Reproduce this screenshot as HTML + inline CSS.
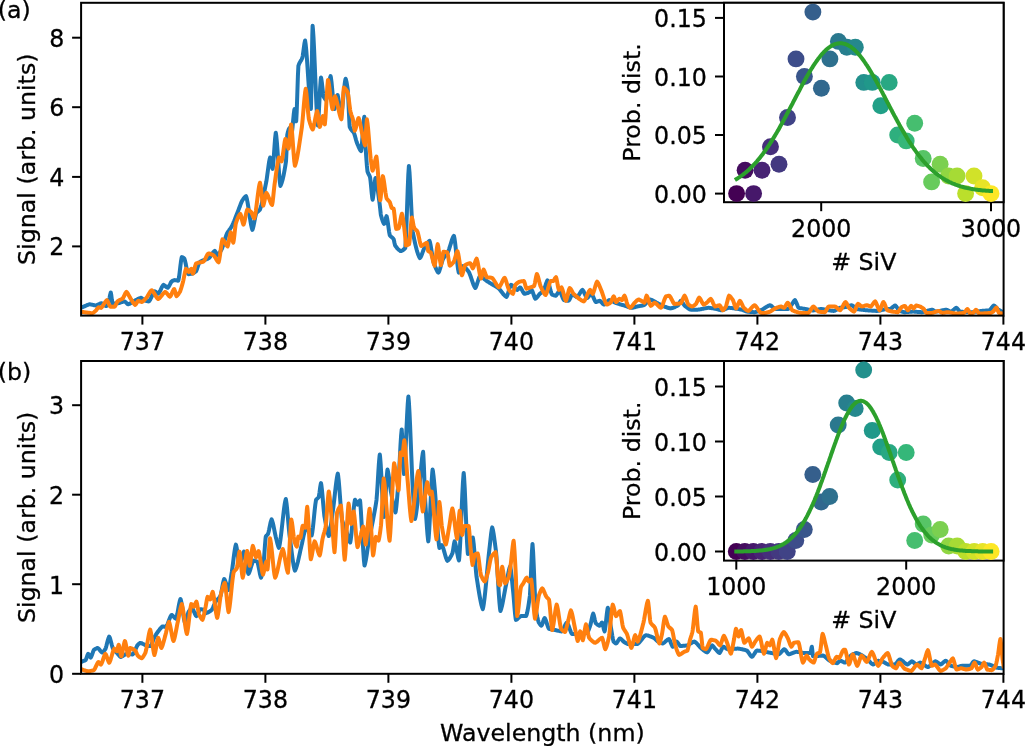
<!DOCTYPE html>
<html><head><meta charset="utf-8"><title>Figure</title>
<style>html,body{margin:0;padding:0;background:#fff}svg{display:block}</style></head>
<body>
<svg width="1025" height="746" viewBox="0 0 1025 746" font-family='"DejaVu Sans", "Liberation Sans", sans-serif' font-size="23.7" fill="#000">
<style>text{stroke:#000;stroke-width:0.3px;paint-order:stroke}</style>
<rect width="1025" height="746" fill="#fff"/>
<defs>
<clipPath id="ca"><rect x="81.1" y="2.8" width="922.5" height="312.8"/></clipPath>
<clipPath id="cb"><rect x="81.1" y="361.0" width="922.5" height="312.79999999999995"/></clipPath>
</defs>
<path d="M81.3 307.5 L81.9 307.4 L82.1 307.3 L82.5 307.2 L83.1 306.9 L83.7 306.7 L84.3 306.4 L84.9 306.1 L85.5 305.8 L86.1 305.6 L86.7 305.3 L87.3 305.0 L87.9 304.8 L88.5 304.6 L89.1 304.4 L89.7 304.3 L89.8 304.3 L90.3 304.4 L90.9 304.5 L91.5 304.6 L92.1 304.7 L92.7 304.9 L93.3 305.0 L93.9 305.2 L94.5 305.3 L95.1 305.4 L95.7 305.5 L95.7 305.5 L96.3 305.4 L96.9 305.2 L97.5 304.9 L98.1 304.6 L98.7 304.3 L99.3 304.0 L99.9 303.7 L100.5 303.5 L101.1 303.3 L101.6 303.2 L101.7 303.2 L102.3 303.5 L102.9 303.8 L103.5 304.3 L104.1 304.8 L104.7 305.2 L105.3 305.7 L105.9 306.0 L106.3 306.1 L106.5 305.9 L107.1 305.0 L107.7 303.8 L108.3 302.3 L108.9 300.8 L108.9 300.8 L109.5 298.1 L110.1 295.0 L110.7 292.7 L110.8 292.5 L111.3 295.2 L111.9 300.2 L112.5 303.7 L112.5 303.7 L113.1 303.7 L113.7 303.6 L114.3 303.6 L114.9 303.5 L115.5 303.5 L116.1 303.4 L116.7 303.4 L117.3 303.3 L117.9 303.2 L118.1 303.2 L118.5 303.1 L119.1 303.0 L119.7 302.8 L120.3 302.6 L120.9 302.4 L121.5 302.2 L122.1 302.0 L122.7 301.8 L123.3 301.6 L123.9 301.5 L124.5 301.4 L124.6 301.4 L125.1 301.7 L125.7 302.2 L126.3 302.8 L126.9 303.4 L127.5 304.0 L128.1 304.3 L128.1 304.3 L128.7 304.1 L129.3 303.9 L129.9 303.6 L130.5 303.3 L131.1 302.9 L131.7 302.6 L132.3 302.2 L132.9 301.8 L133.5 301.4 L134.1 301.1 L134.6 300.8 L134.7 300.8 L135.3 300.4 L135.9 300.1 L136.5 299.8 L137.1 299.5 L137.7 299.1 L138.3 298.8 L138.9 298.5 L139.5 298.3 L140.1 298.1 L140.7 297.9 L141.1 297.8 L141.3 297.9 L141.9 298.3 L142.5 298.8 L143.1 299.4 L143.7 299.9 L144.1 300.2 L144.3 300.3 L144.9 300.5 L145.5 300.7 L146.1 300.8 L146.7 301.0 L147.3 301.2 L147.9 301.3 L148.5 301.4 L148.8 301.4 L149.1 301.2 L149.7 300.4 L150.3 299.4 L150.9 298.2 L151.5 296.9 L152.1 295.6 L152.7 294.4 L153.3 293.2 L153.9 292.2 L154.5 291.6 L154.7 291.4 L155.1 291.6 L155.7 291.9 L156.3 292.4 L156.9 292.9 L157.5 293.4 L158.1 293.7 L158.2 293.7 L158.7 293.2 L159.3 292.4 L159.9 291.3 L160.5 290.1 L161.1 288.8 L161.7 287.5 L162.3 286.4 L162.9 285.5 L163.5 284.9 L163.5 284.9 L164.1 285.2 L164.7 285.6 L165.3 286.1 L165.9 286.6 L166.5 287.1 L167.1 287.5 L167.7 287.8 L167.7 287.8 L168.3 287.2 L168.9 286.3 L169.5 285.2 L170.1 284.1 L170.7 282.9 L171.3 281.9 L171.8 281.3 L171.9 281.2 L172.5 280.9 L173.1 280.6 L173.7 280.4 L174.3 280.2 L174.7 280.1 L174.9 280.1 L175.5 280.2 L176.1 280.3 L176.7 280.4 L177.3 280.6 L177.9 280.7 L178.3 280.7 L178.5 280.0 L179.1 276.7 L179.7 271.9 L180.3 266.7 L180.9 261.9 L181.5 258.2 L181.8 257.1 L182.1 257.2 L182.7 257.4 L183.3 257.7 L183.9 258.1 L184.2 258.3 L184.5 259.0 L185.1 261.1 L185.7 263.8 L186.3 266.8 L186.9 269.6 L187.5 272.1 L188.1 273.8 L188.3 274.2 L188.7 274.2 L189.3 274.1 L189.9 274.0 L190.5 273.9 L191.1 273.8 L191.7 273.7 L191.9 273.7 L192.3 273.5 L192.9 273.3 L193.5 273.0 L194.1 272.6 L194.7 272.3 L195.3 271.8 L195.9 271.4 L196.0 271.3 L196.5 270.3 L197.1 268.7 L197.7 266.9 L198.3 265.1 L198.9 263.5 L199.5 262.3 L199.5 262.3 L200.1 261.9 L200.7 261.6 L201.3 261.2 L201.9 260.9 L202.5 260.7 L203.1 260.4 L203.7 260.2 L204.3 260.0 L204.9 259.8 L205.5 259.6 L206.1 259.4 L206.7 259.1 L207.3 258.9 L207.9 258.6 L208.5 258.3 L209.0 258.0 L209.1 257.9 L209.7 257.3 L210.3 256.5 L210.9 255.6 L211.5 254.8 L212.1 253.9 L212.7 253.0 L213.3 252.2 L213.9 251.6 L214.5 251.1 L214.8 250.9 L215.1 251.2 L215.7 252.2 L216.3 253.5 L216.9 254.7 L217.4 255.3 L217.5 255.2 L218.1 254.8 L218.7 254.1 L219.3 253.2 L219.9 252.3 L220.5 251.3 L221.1 250.2 L221.7 249.2 L221.8 249.0 L222.3 247.7 L222.9 246.0 L223.5 244.2 L224.1 242.2 L224.7 240.2 L225.3 238.3 L225.9 236.4 L226.5 234.7 L226.9 233.7 L227.1 233.3 L227.7 232.3 L228.3 231.4 L228.9 230.6 L229.5 229.7 L230.1 228.9 L230.7 228.0 L231.3 227.1 L231.9 226.2 L232.0 226.0 L232.5 224.9 L233.1 223.6 L233.7 222.1 L234.3 220.7 L234.9 219.1 L235.5 217.6 L236.1 216.1 L236.7 214.5 L237.3 213.0 L237.7 212.0 L237.9 211.5 L238.5 209.9 L239.1 208.3 L239.7 206.7 L240.3 205.1 L240.9 203.5 L241.5 202.1 L242.1 200.8 L242.2 200.6 L242.7 199.9 L243.3 199.0 L243.9 198.2 L244.5 197.4 L245.1 196.8 L245.7 196.3 L246.0 196.1 L246.3 196.9 L246.9 199.1 L247.5 202.1 L248.1 205.6 L248.7 209.5 L249.3 213.6 L249.9 217.7 L250.5 221.5 L251.1 224.9 L251.7 227.7 L252.3 229.6 L252.4 229.8 L252.9 228.5 L253.5 226.1 L254.1 223.1 L254.7 219.9 L255.3 216.8 L255.9 214.2 L256.2 213.3 L256.5 212.9 L257.1 212.3 L257.7 211.7 L258.3 211.2 L258.9 210.7 L259.5 210.1 L260.0 209.5 L260.1 209.2 L260.7 207.4 L261.3 205.3 L261.9 202.9 L262.5 200.3 L263.1 197.6 L263.7 194.7 L264.3 191.8 L264.9 188.7 L265.5 185.7 L266.1 182.7 L266.3 181.7 L266.7 179.2 L267.3 174.9 L267.9 170.4 L268.5 165.9 L269.1 161.9 L269.7 158.8 L270.1 157.5 L270.3 158.0 L270.9 160.6 L271.5 164.1 L272.1 167.3 L272.6 168.9 L272.7 168.4 L273.3 163.1 L273.9 155.2 L274.5 146.4 L275.1 138.5 L275.7 133.2 L275.8 132.7 L276.3 136.1 L276.9 142.4 L277.5 150.4 L278.1 159.3 L278.7 168.2 L279.3 176.2 L279.9 182.5 L280.4 185.9 L280.5 185.7 L281.1 184.4 L281.7 182.8 L282.3 180.8 L282.9 178.4 L283.5 175.7 L284.1 172.7 L284.7 169.4 L285.3 165.9 L285.9 162.0 L286.0 161.3 L286.5 151.4 L287.1 137.6 L287.3 134.6 L287.7 132.9 L288.3 130.7 L288.9 129.0 L289.5 128.0 L289.5 128.0 L290.1 129.7 L290.7 132.4 L291.3 134.6 L291.5 135.0 L291.9 132.9 L292.5 127.5 L293.1 120.9 L293.7 114.6 L294.3 110.0 L294.5 109.1 L294.9 111.3 L295.5 116.5 L296.1 120.8 L296.2 121.2 L296.7 112.0 L297.3 94.2 L297.9 76.0 L298.4 65.9 L298.5 65.6 L299.1 63.9 L299.7 62.7 L300.3 61.6 L300.9 60.7 L301.5 59.6 L302.1 58.4 L302.4 57.6 L302.7 56.0 L303.3 51.9 L303.9 47.2 L304.5 43.1 L305.1 40.5 L305.1 40.5 L305.7 44.6 L306.3 50.7 L306.9 58.4 L307.5 67.1 L308.1 76.3 L308.7 85.4 L309.3 93.8 L309.9 101.0 L310.5 106.6 L310.9 109.0 L311.1 103.2 L311.7 70.6 L312.3 35.8 L312.6 25.8 L312.9 28.7 L313.5 37.5 L314.1 49.4 L314.7 63.3 L315.3 78.2 L315.9 92.9 L316.5 106.3 L317.1 117.3 L317.7 124.8 L317.8 125.6 L318.3 120.7 L318.9 111.1 L319.5 99.5 L320.1 88.4 L320.7 79.9 L321.0 77.4 L321.3 78.7 L321.9 82.9 L322.5 88.3 L323.1 93.5 L323.6 96.5 L323.7 96.7 L324.3 97.8 L324.9 98.8 L325.5 99.6 L326.0 100.0 L326.1 99.8 L326.7 97.7 L327.3 94.5 L327.9 90.7 L328.5 86.7 L329.1 82.8 L329.7 79.4 L330.3 76.9 L330.6 76.1 L330.9 77.5 L331.5 82.0 L332.1 88.1 L332.7 94.9 L333.3 101.3 L333.9 106.4 L334.4 109.1 L334.5 108.9 L335.1 106.8 L335.7 103.8 L336.3 100.3 L336.9 97.3 L337.5 95.2 L337.6 95.0 L338.1 97.0 L338.7 100.8 L339.3 105.5 L339.9 110.2 L340.5 114.0 L341.0 116.0 L341.1 115.6 L341.7 112.3 L342.3 107.4 L342.9 101.5 L343.5 95.2 L344.1 89.2 L344.7 83.9 L345.3 79.9 L345.6 78.7 L345.9 79.5 L346.5 81.9 L347.1 85.3 L347.7 89.3 L347.8 90.0 L348.3 98.8 L348.9 112.7 L349.5 124.5 L349.7 126.9 L350.1 127.8 L350.7 128.9 L351.3 129.7 L351.9 130.4 L352.5 131.1 L353.1 131.8 L353.7 132.6 L354.1 133.3 L354.3 133.9 L354.9 135.8 L355.5 138.0 L356.1 140.2 L356.7 142.2 L356.7 142.2 L357.3 143.7 L357.9 145.1 L358.5 146.6 L359.1 147.9 L359.7 149.2 L360.3 150.2 L360.9 150.9 L361.1 151.1 L361.5 148.5 L362.1 142.0 L362.7 133.9 L363.3 125.8 L363.9 119.3 L364.3 116.7 L364.5 119.5 L365.1 134.6 L365.6 147.3 L365.7 148.8 L366.3 157.8 L366.9 165.7 L367.5 171.5 L367.5 171.5 L368.1 173.1 L368.7 174.3 L369.3 175.4 L369.9 176.8 L370.1 177.4 L370.5 180.4 L371.1 186.5 L371.7 193.0 L372.3 198.2 L372.6 199.7 L372.9 198.4 L373.5 194.0 L374.1 188.4 L374.7 182.8 L375.3 178.8 L375.5 178.0 L375.9 179.2 L376.5 181.9 L377.1 185.4 L377.7 189.5 L378.3 193.9 L378.9 198.4 L379.5 202.8 L379.6 203.5 L380.1 208.0 L380.7 213.5 L380.9 214.9 L381.3 216.4 L381.9 218.6 L382.5 220.5 L383.1 222.1 L383.7 223.3 L384.1 223.9 L384.3 223.6 L384.9 221.8 L385.5 219.5 L386.1 217.3 L386.6 216.2 L386.7 216.5 L387.3 219.2 L387.9 223.1 L388.5 227.6 L389.1 231.8 L389.7 234.9 L389.8 235.3 L390.3 235.9 L390.9 236.5 L391.5 237.0 L392.1 237.5 L392.7 238.0 L393.3 238.7 L393.6 239.1 L393.9 240.1 L394.5 243.0 L395.1 245.4 L395.1 245.4 L395.7 246.3 L396.3 247.1 L396.9 247.9 L397.5 248.6 L398.1 249.2 L398.7 249.7 L399.3 250.2 L399.9 250.6 L400.5 251.0 L400.8 251.1 L401.1 251.0 L401.7 250.8 L402.3 250.5 L402.9 250.1 L403.5 249.6 L404.1 249.1 L404.7 248.6 L405.3 247.9 L405.3 247.9 L405.9 238.4 L406.5 223.8 L407.1 206.5 L407.7 189.4 L408.3 174.9 L408.9 165.9 L408.9 165.9 L409.5 172.4 L410.1 182.5 L410.7 194.7 L411.3 207.6 L411.9 219.5 L412.5 229.1 L412.7 231.5 L413.1 233.6 L413.7 236.7 L414.3 239.7 L414.9 242.5 L415.5 245.1 L416.1 247.5 L416.7 249.8 L417.3 251.9 L417.9 253.7 L418.5 255.3 L419.1 256.7 L419.7 257.8 L419.9 258.1 L420.3 257.6 L420.9 256.6 L421.5 255.3 L422.1 253.7 L422.7 252.1 L423.3 250.5 L423.9 249.0 L424.4 247.9 L424.5 247.7 L425.1 246.8 L425.7 245.8 L426.3 244.8 L426.9 243.8 L427.5 242.9 L428.1 242.2 L428.7 241.5 L429.3 241.0 L429.5 240.9 L429.9 242.0 L430.5 244.6 L431.1 248.0 L431.7 251.8 L432.3 255.6 L432.9 259.2 L433.5 262.0 L433.5 262.0 L434.1 263.7 L434.7 265.3 L435.3 266.9 L435.9 268.4 L436.5 269.7 L437.1 270.9 L437.7 271.9 L438.3 272.6 L438.4 272.7 L438.9 271.9 L439.5 270.4 L440.1 268.6 L440.7 266.5 L441.3 264.3 L441.9 262.2 L442.5 260.3 L443.0 259.0 L443.1 258.8 L443.7 257.9 L444.3 257.0 L444.9 256.2 L445.5 255.5 L446.1 254.7 L446.7 253.9 L447.3 253.1 L447.9 252.2 L448.0 252.0 L448.5 250.8 L449.1 249.1 L449.7 247.2 L450.3 245.2 L450.9 243.3 L451.5 241.3 L452.1 239.5 L452.7 237.9 L453.3 236.7 L453.9 235.8 L453.9 235.8 L454.5 238.5 L455.1 242.7 L455.7 248.0 L456.3 253.8 L456.9 259.6 L457.5 264.9 L458.1 269.4 L458.7 272.4 L458.8 272.7 L459.3 272.2 L459.9 271.3 L460.5 270.2 L461.1 268.9 L461.7 267.7 L462.3 266.7 L462.9 266.1 L463.0 266.0 L463.5 266.2 L464.1 266.6 L464.7 267.1 L465.3 267.7 L465.9 268.4 L466.5 269.0 L467.1 269.8 L467.7 270.5 L468.3 271.3 L468.9 272.1 L468.9 272.1 L469.5 273.4 L470.1 274.9 L470.7 276.5 L471.3 278.3 L471.9 280.1 L472.5 281.9 L473.1 283.6 L473.7 285.2 L474.3 286.5 L474.9 287.5 L475.3 288.0 L475.5 287.8 L476.1 286.6 L476.7 285.0 L477.3 283.2 L477.9 281.2 L478.5 279.3 L479.1 277.6 L479.7 276.4 L480.0 276.0 L480.3 276.1 L480.9 276.4 L481.5 276.7 L482.1 277.1 L482.7 277.6 L483.3 278.1 L483.9 278.6 L484.5 279.1 L485.1 279.6 L485.7 280.2 L486.3 280.6 L486.8 281.0 L486.9 281.1 L487.5 281.5 L488.1 281.8 L488.7 282.2 L489.3 282.6 L489.9 283.0 L490.5 283.3 L491.1 283.7 L491.7 284.1 L491.9 284.2 L492.3 284.4 L492.9 284.8 L493.5 285.1 L494.1 285.5 L494.7 285.8 L495.3 286.2 L495.9 286.5 L496.5 286.9 L497.1 287.3 L497.7 287.7 L498.2 288.0 L498.3 288.1 L498.9 288.7 L499.5 289.3 L500.1 290.0 L500.7 290.8 L501.3 291.6 L501.9 292.3 L502.5 293.1 L503.1 293.9 L503.7 294.6 L504.3 295.2 L504.9 295.8 L505.5 296.3 L506.1 296.7 L506.5 296.9 L506.7 296.6 L507.3 295.4 L507.9 293.7 L508.5 291.7 L509.1 289.6 L509.7 287.7 L510.3 286.0 L510.9 284.9 L511.0 284.8 L511.5 285.0 L512.1 285.4 L512.7 285.9 L513.3 286.5 L513.9 287.1 L514.5 287.7 L515.1 288.3 L515.7 288.9 L516.3 289.4 L516.9 289.7 L517.3 289.9 L517.5 289.8 L518.1 289.3 L518.7 288.7 L519.3 288.0 L519.9 287.5 L520.1 287.4 L520.5 287.7 L521.1 288.5 L521.7 289.5 L522.3 290.6 L522.9 291.7 L523.5 292.7 L524.1 293.5 L524.5 293.8 L524.7 293.8 L525.3 293.7 L525.9 293.5 L526.5 293.4 L527.1 293.2 L527.7 293.0 L528.3 292.8 L528.9 292.5 L529.0 292.5 L529.5 292.1 L530.1 291.4 L530.7 290.6 L531.3 290.1 L531.6 289.9 L531.9 290.3 L532.5 291.5 L533.1 293.1 L533.7 295.0 L534.3 296.7 L534.9 298.1 L535.4 298.8 L535.5 298.8 L536.1 298.3 L536.7 297.7 L537.3 297.0 L537.9 296.2 L538.5 295.4 L539.1 294.6 L539.7 293.9 L539.8 293.8 L540.3 293.4 L540.9 293.0 L541.5 292.6 L542.1 292.2 L542.7 291.7 L543.3 291.2 L543.5 291.0 L543.9 290.2 L544.5 288.6 L545.1 286.7 L545.7 284.7 L546.3 282.9 L546.9 281.4 L547.5 280.4 L547.5 280.4 L548.1 281.6 L548.7 283.4 L549.3 285.6 L549.9 288.0 L550.5 290.4 L551.1 292.5 L551.7 294.0 L551.9 294.4 L552.3 294.6 L552.9 294.9 L553.5 295.1 L554.1 295.3 L554.7 295.5 L555.3 295.6 L555.7 295.7 L555.9 295.6 L556.5 295.0 L557.1 294.1 L557.7 293.2 L558.3 292.3 L558.9 291.5 L559.5 291.0 L559.5 291.0 L560.1 291.7 L560.7 292.9 L561.3 294.3 L561.9 295.8 L562.5 297.4 L563.1 298.7 L563.7 299.7 L564.0 300.1 L564.3 300.2 L564.9 300.3 L565.5 300.4 L566.1 300.5 L566.7 300.6 L567.3 300.7 L567.9 300.8 L568.5 300.8 L568.5 300.8 L569.1 300.1 L569.7 299.1 L570.3 297.8 L570.9 296.5 L571.5 295.4 L572.1 294.6 L572.3 294.4 L572.7 294.5 L573.3 294.8 L573.9 295.2 L574.5 295.6 L575.1 296.0 L575.7 296.4 L576.3 296.8 L576.9 297.0 L577.0 297.0 L577.5 296.6 L578.1 296.0 L578.7 295.2 L579.3 294.2 L579.9 293.2 L580.5 292.2 L581.1 291.3 L581.7 290.6 L582.3 290.0 L582.5 289.9 L582.9 290.3 L583.5 291.2 L584.1 292.5 L584.7 293.8 L585.3 295.2 L585.9 296.5 L586.5 297.5 L587.0 298.0 L587.1 298.0 L587.7 297.6 L588.3 297.0 L588.9 296.3 L589.5 295.5 L590.1 294.8 L590.7 294.2 L591.3 293.8 L591.4 293.8 L591.9 294.3 L592.5 295.3 L593.1 296.6 L593.7 298.0 L594.3 299.4 L594.9 300.7 L595.5 301.6 L595.9 302.0 L596.1 302.0 L596.7 301.8 L597.3 301.6 L597.9 301.4 L598.5 301.1 L599.1 300.9 L599.7 300.8 L599.7 300.8 L600.3 301.1 L600.9 301.6 L601.5 302.3 L602.1 302.9 L602.7 303.6 L603.3 304.1 L603.9 304.5 L604.1 304.6 L604.5 304.4 L605.1 304.0 L605.7 303.4 L606.3 302.7 L606.9 302.1 L607.5 301.4 L608.1 300.8 L608.7 300.3 L609.2 300.1 L609.3 300.1 L609.9 300.3 L610.5 300.4 L611.1 300.7 L611.7 300.9 L612.3 301.2 L612.9 301.5 L613.5 301.8 L614.1 302.1 L614.7 302.4 L615.3 302.7 L615.9 303.0 L616.0 303.0 L616.5 303.2 L617.1 303.4 L617.7 303.6 L618.3 303.7 L618.9 303.9 L619.5 304.1 L620.1 304.3 L620.7 304.5 L621.3 304.6 L621.9 304.8 L622.5 305.0 L623.1 305.2 L623.2 305.2 L623.7 305.4 L624.3 305.5 L624.9 305.7 L625.5 306.0 L626.1 306.2 L626.7 306.4 L627.3 306.6 L627.9 306.8 L628.5 307.0 L629.1 307.2 L629.7 307.3 L630.3 307.5 L630.9 307.6 L631.5 307.7 L632.1 307.8 L632.1 307.8 L632.7 307.7 L633.3 307.6 L633.9 307.4 L634.5 307.3 L635.1 307.1 L635.7 306.9 L636.3 306.7 L636.9 306.6 L637.2 306.5 L637.5 306.4 L638.1 306.3 L638.7 306.2 L639.3 306.1 L639.9 306.0 L640.5 305.9 L641.1 305.8 L641.7 305.7 L642.3 305.6 L642.9 305.4 L643.5 305.3 L643.8 305.2 L644.1 305.0 L644.7 304.6 L645.3 304.0 L645.9 303.4 L646.5 302.8 L647.1 302.1 L647.7 301.4 L648.3 300.8 L648.9 300.3 L649.5 299.8 L650.1 299.5 L650.2 299.5 L650.7 299.6 L651.3 299.8 L651.9 300.1 L652.5 300.4 L653.1 300.7 L653.7 301.0 L654.3 301.4 L654.9 301.7 L655.5 302.1 L656.1 302.4 L656.6 302.7 L656.7 302.8 L657.3 303.1 L657.9 303.4 L658.5 303.7 L659.1 304.0 L659.7 304.4 L660.3 304.7 L660.9 305.0 L661.5 305.3 L662.1 305.6 L662.7 305.9 L663.0 306.0 L663.3 306.1 L663.9 306.3 L664.5 306.6 L665.1 306.8 L665.7 307.0 L666.3 307.2 L666.9 307.5 L667.5 307.7 L668.1 307.8 L668.7 308.0 L669.3 308.2 L669.9 308.3 L670.5 308.4 L670.6 308.4 L671.1 308.3 L671.7 308.2 L672.3 308.0 L672.9 307.8 L673.5 307.6 L674.1 307.4 L674.7 307.1 L675.3 306.8 L675.9 306.5 L676.5 306.2 L677.1 305.9 L677.7 305.5 L678.2 305.2 L678.3 305.1 L678.9 304.0 L679.5 302.7 L680.1 301.6 L680.7 300.8 L680.7 300.8 L681.3 301.2 L681.9 301.9 L682.5 302.6 L683.1 303.5 L683.7 304.4 L684.3 305.2 L684.9 305.9 L685.0 306.0 L685.5 306.4 L686.1 306.8 L686.7 307.3 L687.3 307.8 L687.9 308.2 L688.5 308.6 L689.1 308.9 L689.7 309.3 L690.3 309.5 L690.9 309.7 L690.9 309.7 L691.5 309.7 L692.1 309.7 L692.7 309.7 L693.3 309.7 L693.9 309.7 L694.5 309.7 L695.1 309.7 L695.7 309.7 L696.3 309.7 L696.9 309.7 L697.3 309.7 L697.5 309.7 L698.1 309.6 L698.7 309.6 L699.3 309.5 L699.9 309.4 L700.5 309.3 L701.1 309.2 L701.7 309.0 L702.3 308.9 L702.9 308.8 L703.5 308.7 L704.1 308.5 L704.7 308.4 L705.3 308.3 L705.9 308.2 L706.5 308.1 L707.1 308.0 L707.7 307.9 L708.3 307.8 L708.8 307.8 L708.9 307.8 L709.5 307.9 L710.1 307.9 L710.7 308.0 L711.3 308.1 L711.9 308.2 L712.5 308.3 L713.1 308.4 L713.7 308.5 L714.3 308.6 L714.9 308.7 L715.5 308.8 L716.1 308.9 L716.4 309.0 L716.7 309.1 L717.3 309.2 L717.9 309.4 L718.5 309.6 L719.1 309.8 L719.7 309.9 L720.3 310.1 L720.9 310.2 L721.5 310.3 L721.5 310.3 L722.1 310.2 L722.7 310.0 L723.3 309.9 L723.9 309.6 L724.5 309.4 L725.1 309.1 L725.7 308.9 L726.3 308.6 L726.9 308.4 L727.5 308.2 L728.1 308.0 L728.7 307.9 L729.1 307.8 L729.3 307.8 L729.9 307.9 L730.5 307.9 L731.1 308.0 L731.7 308.1 L732.3 308.1 L732.9 308.2 L733.5 308.3 L734.1 308.4 L734.2 308.4 L734.7 308.5 L735.3 308.6 L735.9 308.7 L736.5 308.7 L737.1 308.8 L737.7 308.9 L738.3 309.0 L738.9 309.1 L739.5 309.2 L740.1 309.3 L740.7 309.5 L741.3 309.6 L741.9 309.7 L741.9 309.7 L742.5 309.9 L743.1 310.1 L743.7 310.4 L744.3 310.6 L744.9 310.9 L745.5 311.1 L746.1 311.3 L746.7 311.5 L747.0 311.6 L747.3 311.6 L747.9 311.7 L748.5 311.8 L749.1 311.8 L749.7 311.9 L750.3 311.9 L750.9 312.0 L751.5 312.0 L752.1 312.1 L752.7 312.1 L753.3 312.1 L753.9 312.2 L754.5 312.2 L754.6 312.2 L755.1 312.1 L755.7 312.0 L756.3 311.9 L756.9 311.7 L757.5 311.5 L758.1 311.3 L758.7 311.1 L759.3 310.9 L759.9 310.6 L760.5 310.4 L761.1 310.2 L761.7 309.9 L762.2 309.7 L762.3 309.6 L762.9 309.3 L763.5 308.8 L764.1 308.4 L764.7 308.0 L765.0 307.8 L765.3 307.6 L765.9 307.3 L766.5 306.9 L767.1 306.5 L767.7 306.2 L768.3 305.9 L768.9 305.6 L769.5 305.4 L770.1 305.2 L770.1 305.2 L770.7 305.5 L771.3 305.9 L771.9 306.4 L772.5 307.0 L773.1 307.5 L773.7 308.1 L774.3 308.5 L774.9 308.9 L775.2 309.0 L775.5 309.0 L776.1 309.0 L776.7 309.0 L777.3 309.0 L777.9 309.0 L778.5 309.0 L779.1 309.0 L779.7 309.0 L780.3 309.0 L780.9 309.0 L781.5 309.0 L782.1 309.0 L782.7 309.0 L783.3 309.0 L783.9 309.0 L784.5 309.0 L785.1 309.0 L785.7 309.0 L786.3 309.0 L786.9 309.0 L787.5 309.0 L787.9 309.0 L788.1 308.9 L788.7 308.4 L789.3 307.8 L789.9 307.0 L790.5 306.2 L791.1 305.4 L791.7 304.6 L791.7 304.6 L792.3 303.7 L792.9 302.7 L793.5 301.7 L794.1 300.9 L794.7 300.2 L794.9 300.1 L795.3 300.6 L795.9 301.7 L796.5 303.1 L797.1 304.6 L797.7 306.1 L798.3 307.3 L798.7 307.8 L798.9 307.9 L799.5 308.0 L800.1 308.1 L800.7 308.2 L801.3 308.3 L801.9 308.4 L802.5 308.5 L803.1 308.6 L803.7 308.7 L804.3 308.8 L804.9 308.9 L805.5 309.0 L805.7 309.0 L806.1 309.1 L806.7 309.2 L807.3 309.4 L807.9 309.5 L808.5 309.6 L809.1 309.8 L809.7 309.9 L810.3 310.1 L810.9 310.2 L811.5 310.3 L812.1 310.4 L812.7 310.5 L813.0 310.5 L813.3 310.5 L813.9 310.4 L814.5 310.3 L815.1 310.2 L815.7 310.1 L816.3 309.9 L816.9 309.8 L817.5 309.6 L818.1 309.5 L818.7 309.4 L819.3 309.2 L819.9 309.1 L820.5 309.0 L821.0 309.0 L821.1 309.0 L821.7 309.1 L822.3 309.1 L822.9 309.2 L823.5 309.3 L824.1 309.4 L824.7 309.5 L825.3 309.7 L825.9 309.8 L826.5 309.9 L827.1 310.0 L827.7 310.1 L828.3 310.2 L828.7 310.3 L828.9 310.3 L829.5 310.4 L830.1 310.5 L830.7 310.6 L831.3 310.7 L831.9 310.7 L832.5 310.8 L833.1 310.9 L833.7 310.9 L833.8 310.9 L834.3 310.8 L834.9 310.6 L835.5 310.3 L836.1 310.0 L836.7 309.6 L837.3 309.2 L837.9 308.9 L838.5 308.5 L839.1 308.2 L839.7 307.9 L840.1 307.8 L840.3 307.8 L840.9 307.7 L841.5 307.6 L842.1 307.5 L842.7 307.4 L843.3 307.4 L843.9 307.3 L844.5 307.2 L845.1 307.1 L845.7 307.0 L846.0 307.0 L846.3 306.9 L846.9 306.7 L847.5 306.5 L848.1 306.3 L848.7 306.1 L849.3 305.8 L849.9 305.6 L850.5 305.4 L851.1 305.3 L851.6 305.2 L851.7 305.2 L852.3 305.5 L852.9 305.9 L853.5 306.4 L854.1 307.0 L854.7 307.5 L855.3 308.1 L855.9 308.5 L856.5 308.9 L856.7 309.0 L857.1 309.1 L857.7 309.2 L858.3 309.3 L858.9 309.4 L859.5 309.5 L860.1 309.6 L860.7 309.6 L861.3 309.7 L861.9 309.8 L862.5 309.8 L863.1 309.9 L863.7 310.0 L864.3 310.0 L864.9 310.1 L865.5 310.2 L866.1 310.2 L866.7 310.3 L866.9 310.3 L867.3 310.3 L867.9 310.4 L868.5 310.4 L869.1 310.5 L869.7 310.5 L870.3 310.5 L870.9 310.6 L871.5 310.6 L872.1 310.7 L872.7 310.7 L873.3 310.7 L873.9 310.8 L874.5 310.8 L875.1 310.8 L875.7 310.9 L876.3 310.9 L876.9 310.9 L877.0 310.9 L877.5 310.9 L878.1 310.8 L878.7 310.7 L879.3 310.6 L879.9 310.5 L880.5 310.3 L881.1 310.2 L881.7 310.0 L882.3 309.9 L882.9 309.8 L883.5 309.6 L884.1 309.5 L884.7 309.4 L885.3 309.2 L885.9 309.1 L886.5 309.1 L887.1 309.0 L887.2 309.0 L887.7 309.0 L888.3 309.0 L888.9 309.0 L889.5 309.0 L890.1 309.0 L890.1 309.0 L890.7 308.8 L891.3 308.4 L891.9 307.9 L892.5 307.4 L893.1 306.9 L893.7 306.3 L894.3 305.9 L894.9 305.6 L895.2 305.5 L895.5 305.7 L896.1 306.3 L896.7 307.1 L897.3 308.0 L897.9 309.0 L898.5 309.8 L899.0 310.3 L899.1 310.4 L899.7 310.6 L900.3 310.9 L900.9 311.2 L901.5 311.5 L902.1 311.7 L902.7 311.9 L903.3 312.0 L903.9 312.2 L904.1 312.2 L904.5 312.2 L905.1 312.2 L905.7 312.1 L906.3 312.1 L906.9 312.0 L907.5 312.0 L908.1 311.9 L908.7 311.9 L909.3 311.8 L909.9 311.8 L910.5 311.7 L911.1 311.7 L911.7 311.7 L912.3 311.6 L912.9 311.6 L913.0 311.6 L913.5 311.6 L914.1 311.6 L914.7 311.7 L915.3 311.7 L915.9 311.8 L916.5 311.8 L917.1 311.9 L917.7 311.9 L918.3 312.0 L918.9 312.0 L919.5 312.1 L920.1 312.1 L920.7 312.1 L921.3 312.2 L921.9 312.2 L921.9 312.2 L922.5 312.1 L923.1 312.0 L923.7 311.9 L924.3 311.8 L924.9 311.6 L925.5 311.4 L926.1 311.2 L926.7 311.0 L927.3 310.9 L927.9 310.7 L928.5 310.5 L929.1 310.3 L929.7 310.1 L930.3 310.0 L930.9 309.9 L931.5 309.8 L932.1 309.7 L932.1 309.7 L932.7 309.9 L933.3 310.2 L933.9 310.6 L934.5 311.0 L935.1 311.3 L935.7 311.6 L935.9 311.6 L936.3 311.6 L936.9 311.5 L937.5 311.4 L938.1 311.3 L938.7 311.2 L939.3 311.1 L939.9 310.9 L940.5 310.8 L941.1 310.6 L941.7 310.5 L942.3 310.3 L942.9 310.2 L943.5 310.1 L944.1 310.0 L944.7 309.9 L945.3 309.8 L945.9 309.7 L946.1 309.7 L946.5 309.8 L947.1 310.0 L947.7 310.2 L948.3 310.5 L948.9 310.8 L949.5 311.1 L950.1 311.3 L950.7 311.5 L951.2 311.6 L951.3 311.6 L951.9 311.3 L952.5 310.8 L953.1 310.3 L953.7 309.7 L954.3 309.2 L954.9 308.6 L955.5 308.2 L956.1 307.9 L956.3 307.8 L956.7 308.0 L957.3 308.6 L957.9 309.3 L958.5 310.1 L959.1 310.8 L959.7 311.3 L960.1 311.6 L960.3 311.6 L960.9 311.7 L961.5 311.7 L962.1 311.8 L962.7 311.8 L963.3 311.9 L963.9 311.9 L964.5 311.9 L965.1 312.0 L965.7 312.0 L966.3 312.0 L966.9 312.1 L967.5 312.1 L968.1 312.1 L968.7 312.1 L969.3 312.1 L969.9 312.2 L970.5 312.2 L971.1 312.2 L971.6 312.2 L971.7 312.2 L972.3 312.2 L972.9 312.1 L973.5 312.0 L974.1 312.0 L974.7 311.9 L975.3 311.8 L975.9 311.7 L976.5 311.7 L977.1 311.6 L977.7 311.5 L978.3 311.4 L978.9 311.3 L979.5 311.2 L980.1 311.1 L980.7 311.0 L981.3 311.0 L981.8 310.9 L981.9 310.9 L982.5 310.8 L983.1 310.8 L983.7 310.8 L984.3 310.7 L984.9 310.7 L985.5 310.6 L986.1 310.6 L986.7 310.6 L987.3 310.5 L987.9 310.5 L988.5 310.4 L989.1 310.3 L989.4 310.3 L989.7 310.1 L990.3 309.6 L990.9 308.8 L991.5 308.1 L992.1 307.2 L992.7 306.5 L993.3 305.9 L993.9 305.5 L993.9 305.5 L994.5 305.8 L995.1 306.3 L995.7 306.9 L996.3 307.6 L996.9 308.2 L997.5 308.8 L997.7 309.0 L998.1 309.3 L998.7 309.7 L999.3 310.1 L999.9 310.5 L1000.5 310.9 L1001.1 311.2 L1001.7 311.6 L1002.3 311.9 L1002.8 312.2 L1002.9 312.2 L1003.5 312.5 L1003.6 312.5" fill="none" stroke="#1f77b4" stroke-width="4.0" stroke-linejoin="round" stroke-linecap="butt" clip-path="url(#ca)"/>
<path d="M81.3 312.0 L81.9 312.0 L82.1 312.0 L82.5 312.0 L83.1 312.1 L83.7 312.1 L84.3 312.2 L84.9 312.3 L85.5 312.4 L86.1 312.4 L86.7 312.5 L87.3 312.6 L87.4 312.6 L87.9 312.7 L88.5 312.7 L89.1 312.8 L89.7 312.9 L90.3 313.0 L90.9 313.1 L91.5 313.2 L92.1 313.2 L92.2 313.2 L92.7 313.0 L93.3 312.7 L93.9 312.3 L94.5 311.8 L95.1 311.3 L95.7 310.8 L95.7 310.8 L96.3 310.1 L96.9 309.2 L97.5 308.4 L98.1 307.7 L98.6 307.3 L98.7 307.3 L99.3 307.4 L99.9 307.6 L100.5 307.8 L101.0 307.9 L101.1 307.8 L101.7 307.4 L102.3 306.6 L102.9 305.8 L103.5 304.8 L104.1 303.8 L104.7 302.8 L105.3 301.9 L105.9 301.1 L106.5 300.5 L106.9 300.2 L107.1 300.4 L107.7 301.3 L108.3 302.6 L108.9 304.1 L109.5 305.4 L110.1 306.4 L110.4 306.7 L110.7 306.7 L111.3 306.7 L111.9 306.7 L112.5 306.7 L113.1 306.7 L113.7 306.7 L114.3 306.7 L114.6 306.7 L114.9 306.4 L115.5 305.4 L116.1 304.1 L116.7 302.8 L117.3 301.7 L117.5 301.4 L117.9 301.1 L118.5 300.7 L119.1 300.4 L119.7 300.1 L120.3 299.8 L120.9 299.5 L121.5 299.2 L122.1 298.9 L122.7 298.5 L122.8 298.4 L123.3 297.6 L123.9 296.5 L124.5 295.1 L125.1 293.8 L125.7 292.7 L126.3 292.0 L126.4 291.9 L126.9 292.3 L127.5 293.1 L128.1 294.1 L128.7 295.2 L129.3 296.3 L129.9 297.4 L130.5 298.4 L130.5 298.4 L131.1 299.3 L131.7 300.3 L132.3 301.3 L132.9 302.3 L133.5 303.1 L134.1 303.9 L134.7 304.5 L135.2 304.9 L135.3 304.8 L135.9 304.2 L136.5 303.2 L137.1 302.2 L137.7 301.3 L138.2 300.8 L138.3 300.8 L138.9 301.0 L139.5 301.2 L140.1 301.5 L140.7 301.7 L141.3 301.9 L141.7 302.0 L141.9 301.9 L142.5 301.6 L143.1 301.2 L143.7 300.6 L144.3 300.0 L144.9 299.4 L145.5 298.8 L146.1 298.1 L146.4 297.8 L146.7 297.4 L147.3 296.5 L147.9 295.5 L148.5 294.5 L149.1 293.5 L149.7 292.5 L150.3 291.6 L150.9 290.9 L151.5 290.3 L151.7 290.2 L152.1 290.5 L152.7 291.1 L153.3 291.9 L153.9 292.8 L154.5 293.8 L155.1 294.9 L155.7 295.9 L156.3 296.9 L156.9 297.7 L157.5 298.5 L158.1 298.9 L158.2 299.0 L158.7 298.7 L159.3 298.3 L159.9 297.7 L160.5 297.0 L161.1 296.3 L161.7 295.5 L162.3 294.7 L162.9 294.0 L163.5 293.3 L164.1 292.7 L164.7 292.2 L165.3 291.9 L165.3 291.9 L165.9 292.3 L166.5 292.9 L167.1 293.6 L167.7 294.4 L168.3 295.1 L168.9 295.9 L169.5 296.4 L170.0 296.7 L170.1 296.6 L170.7 295.8 L171.3 294.7 L171.9 293.3 L172.5 291.9 L173.1 290.6 L173.7 289.5 L174.2 289.0 L174.3 289.1 L174.9 290.8 L175.5 293.1 L176.1 295.3 L176.5 296.1 L176.7 296.0 L177.3 295.5 L177.9 294.8 L178.5 294.0 L179.1 293.0 L179.7 292.1 L180.1 291.4 L180.3 290.9 L180.9 289.2 L181.5 287.2 L182.1 285.1 L182.7 283.0 L183.0 281.9 L183.3 280.6 L183.9 277.7 L184.5 274.6 L185.1 271.7 L185.7 269.6 L186.0 268.9 L186.3 269.1 L186.9 269.7 L187.5 270.5 L188.1 271.2 L188.7 271.8 L188.9 271.9 L189.3 271.6 L189.9 270.7 L190.5 269.8 L191.1 269.0 L191.3 268.9 L191.7 269.8 L192.3 271.8 L192.9 273.6 L193.0 273.7 L193.5 272.6 L194.1 270.5 L194.7 268.0 L195.3 265.6 L195.9 263.8 L196.0 263.6 L196.5 263.3 L197.1 263.1 L197.6 262.9 L197.7 262.9 L198.3 262.7 L198.9 262.6 L199.5 262.5 L200.1 262.4 L200.7 262.3 L201.3 262.2 L201.9 262.1 L202.5 261.9 L203.1 261.8 L203.4 261.7 L203.7 261.4 L204.3 260.6 L204.9 259.5 L205.5 258.3 L206.1 257.1 L206.7 255.9 L207.3 254.8 L207.9 254.0 L208.5 253.4 L208.5 253.4 L209.1 253.5 L209.7 253.7 L210.3 253.8 L210.9 254.1 L211.5 254.3 L212.1 254.6 L212.7 254.9 L213.3 255.1 L213.6 255.3 L213.9 255.6 L214.5 256.4 L215.1 257.3 L215.7 258.3 L216.3 259.4 L216.9 260.4 L217.5 261.2 L218.1 261.9 L218.6 262.3 L218.7 262.0 L219.3 259.5 L219.9 255.7 L220.5 251.2 L221.1 246.7 L221.7 242.8 L222.3 240.0 L222.5 239.4 L222.9 239.7 L223.5 240.4 L224.1 241.3 L224.7 242.3 L225.3 243.3 L225.9 244.4 L226.5 245.3 L227.1 246.0 L227.6 246.4 L227.7 246.2 L228.3 244.0 L228.9 240.9 L229.5 237.4 L230.1 234.3 L230.7 232.4 L230.7 232.4 L231.3 234.2 L231.9 237.0 L232.5 240.0 L233.1 242.2 L233.3 242.6 L233.7 240.7 L234.3 236.0 L234.9 230.4 L235.5 225.4 L235.8 223.5 L236.1 222.6 L236.7 220.9 L237.3 219.3 L237.9 217.9 L238.5 216.5 L239.1 215.4 L239.7 214.5 L240.3 213.9 L240.3 213.9 L240.9 215.3 L241.5 217.6 L242.1 220.2 L242.7 222.6 L243.3 224.4 L243.5 224.7 L243.9 223.8 L244.5 221.5 L245.1 218.7 L245.7 215.5 L246.3 212.7 L246.9 210.4 L247.3 209.5 L247.5 209.6 L248.1 209.8 L248.7 210.1 L249.3 210.5 L249.9 211.0 L250.5 211.5 L251.1 212.0 L251.1 212.0 L251.7 213.1 L252.3 214.5 L252.9 215.9 L253.5 217.3 L254.1 218.2 L254.3 218.4 L254.7 217.1 L255.3 214.1 L255.9 210.3 L256.5 205.8 L257.1 201.0 L257.7 196.1 L258.3 191.5 L258.9 187.5 L259.5 184.4 L260.0 182.7 L260.1 183.0 L260.7 186.4 L261.3 191.4 L261.9 197.0 L262.5 202.0 L263.1 205.4 L263.2 205.7 L263.7 204.4 L264.3 201.8 L264.9 198.8 L265.5 195.8 L266.1 193.6 L266.4 192.9 L266.7 193.2 L267.3 194.2 L267.9 195.4 L268.5 196.9 L269.1 198.5 L269.7 200.2 L270.3 201.8 L270.9 203.2 L271.5 204.3 L272.1 205.0 L272.1 205.0 L272.7 201.6 L273.3 196.2 L273.9 190.2 L274.5 184.9 L274.5 184.9 L275.1 180.7 L275.7 176.3 L276.3 171.9 L276.9 167.8 L277.5 164.0 L278.1 160.8 L278.7 158.4 L279.0 157.5 L279.3 157.8 L279.9 158.7 L280.5 159.8 L281.1 160.8 L281.6 161.3 L281.7 161.0 L282.3 158.5 L282.9 154.6 L283.5 150.2 L284.1 145.7 L284.7 141.8 L285.3 139.3 L285.4 139.0 L285.9 140.0 L286.5 141.9 L287.1 144.2 L287.7 146.4 L288.3 148.1 L288.6 148.6 L288.9 146.9 L289.5 140.8 L290.1 133.4 L290.7 126.9 L291.1 124.4 L291.3 125.5 L291.9 130.7 L292.5 138.1 L293.1 146.5 L293.7 154.7 L294.3 161.5 L294.9 165.8 L294.9 165.8 L295.5 164.2 L296.1 162.1 L296.7 159.5 L297.3 156.5 L297.9 153.2 L298.5 149.6 L299.1 145.8 L299.7 141.8 L300.3 137.8 L300.9 133.7 L301.5 129.6 L301.9 126.9 L302.1 125.1 L302.7 118.9 L303.3 111.8 L303.9 104.6 L304.5 97.9 L305.1 92.4 L305.7 88.8 L305.7 88.8 L306.3 92.5 L306.9 98.4 L307.5 105.4 L308.1 112.2 L308.7 117.9 L308.9 119.3 L309.3 120.7 L309.9 122.8 L310.5 124.7 L311.1 126.4 L311.7 127.9 L312.3 129.0 L312.7 129.5 L312.9 129.1 L313.5 127.3 L314.1 124.6 L314.7 121.6 L315.3 118.4 L315.9 115.4 L316.5 112.9 L317.1 111.2 L317.2 111.0 L317.7 113.1 L318.3 117.4 L318.9 122.1 L319.5 125.8 L319.8 126.9 L320.1 126.3 L320.7 124.3 L321.3 121.7 L321.9 119.1 L322.5 117.0 L322.9 116.1 L323.1 116.6 L323.7 119.4 L324.3 122.7 L324.8 124.4 L324.9 123.8 L325.5 117.2 L326.1 107.5 L326.7 96.8 L327.3 87.1 L327.9 80.5 L328.0 79.9 L328.5 81.8 L329.1 85.4 L329.7 89.9 L330.3 94.9 L330.9 99.9 L331.5 104.3 L332.1 107.7 L332.5 109.1 L332.7 108.5 L333.3 105.6 L333.9 101.6 L334.5 98.0 L335.0 96.2 L335.1 96.4 L335.7 97.7 L336.3 99.6 L336.9 101.9 L337.5 104.5 L338.1 107.3 L338.7 110.1 L339.3 112.8 L339.9 115.2 L340.5 117.3 L341.1 118.8 L341.4 119.3 L341.7 117.0 L342.3 109.1 L342.9 99.4 L343.5 90.9 L343.9 87.6 L344.1 87.7 L344.7 88.2 L345.3 88.8 L345.9 89.5 L346.5 90.4 L347.1 91.4 L347.7 92.5 L347.8 92.7 L348.3 95.4 L348.9 99.9 L349.5 104.9 L350.1 109.5 L350.5 112.0 L350.7 112.7 L351.3 114.6 L351.9 116.2 L352.5 117.9 L352.9 119.3 L353.1 120.4 L353.7 124.5 L354.3 128.6 L354.8 130.7 L354.9 130.6 L355.5 129.1 L356.1 126.9 L356.7 124.4 L357.3 121.8 L357.9 119.6 L358.5 118.1 L358.6 118.0 L359.1 119.2 L359.7 121.4 L360.3 124.1 L360.9 127.1 L361.5 130.3 L362.1 133.3 L362.4 134.6 L362.7 135.9 L363.3 138.9 L363.9 141.8 L364.5 144.1 L365.0 145.4 L365.1 144.7 L365.7 136.7 L366.3 126.3 L366.9 119.3 L366.9 119.3 L367.5 123.0 L368.1 128.7 L368.7 135.7 L369.3 143.2 L369.9 150.5 L370.5 157.0 L370.7 158.8 L371.1 161.7 L371.7 166.1 L372.3 169.6 L372.6 170.6 L372.9 170.0 L373.5 168.1 L374.1 165.5 L374.7 162.6 L375.3 159.9 L375.9 157.7 L376.4 156.6 L376.5 157.1 L377.1 162.0 L377.7 169.2 L378.3 177.7 L378.9 186.3 L379.5 193.9 L380.1 199.2 L380.3 200.3 L380.7 197.8 L381.3 191.3 L381.9 183.9 L382.5 177.8 L382.8 176.1 L383.1 177.0 L383.7 179.9 L384.3 183.8 L384.9 188.2 L385.5 192.5 L386.1 196.2 L386.6 198.4 L386.7 198.6 L387.3 199.4 L387.9 200.0 L388.5 200.6 L389.1 201.3 L389.7 202.1 L389.8 202.2 L390.3 203.6 L390.9 205.7 L391.5 207.5 L391.7 207.9 L392.1 208.1 L392.7 208.3 L393.3 208.5 L393.6 208.6 L393.9 210.1 L394.5 214.9 L395.1 220.9 L395.7 226.2 L396.2 228.9 L396.3 228.9 L396.9 228.8 L397.5 228.7 L398.1 228.5 L398.7 228.3 L398.7 228.3 L399.3 226.3 L399.9 223.2 L400.5 219.7 L401.1 216.5 L401.7 214.2 L401.9 213.7 L402.3 215.1 L402.9 218.1 L403.5 222.0 L404.1 226.7 L404.7 231.9 L405.3 237.7 L405.7 241.7 L405.9 245.4 L405.9 245.4 L406.5 245.3 L407.1 245.1 L407.7 244.9 L408.3 244.6 L408.9 244.2 L409.1 244.1 L409.5 241.6 L410.1 235.4 L410.7 228.2 L411.3 221.6 L411.9 217.5 L411.9 217.5 L412.5 219.7 L413.1 223.2 L413.7 226.5 L414.0 227.7 L414.3 228.1 L414.9 228.8 L415.5 229.4 L416.1 230.0 L416.7 230.5 L417.3 231.3 L417.4 231.4 L417.9 233.0 L418.5 235.4 L419.1 238.2 L419.7 241.0 L420.3 243.5 L420.9 245.4 L421.2 246.0 L421.5 245.9 L422.1 245.7 L422.7 245.3 L423.3 244.9 L423.9 244.5 L424.5 244.1 L425.1 243.7 L425.7 243.3 L426.3 243.0 L426.9 242.8 L426.9 242.8 L427.5 246.4 L428.1 250.7 L428.2 251.1 L428.7 251.4 L429.3 251.7 L429.9 252.0 L430.5 252.3 L430.7 252.4 L431.1 253.3 L431.7 255.4 L432.3 257.8 L432.9 260.4 L433.5 262.8 L434.1 264.7 L434.6 265.7 L434.7 265.4 L435.3 262.1 L435.9 257.2 L436.5 251.8 L437.1 247.0 L437.7 244.1 L437.7 244.1 L438.3 246.8 L438.9 251.2 L439.5 256.3 L440.1 261.0 L440.7 264.4 L440.9 265.1 L441.3 263.8 L441.9 260.4 L442.5 256.4 L443.1 253.0 L443.5 251.7 L443.7 251.7 L444.3 251.8 L444.9 251.9 L445.5 252.0 L446.1 252.1 L446.7 252.2 L447.3 252.4 L447.3 252.4 L447.9 254.9 L448.5 258.8 L449.1 262.7 L449.7 265.5 L449.8 265.7 L450.3 265.5 L450.9 265.0 L451.5 264.5 L452.1 263.8 L452.7 263.1 L453.3 262.4 L453.7 261.9 L453.9 261.5 L454.5 259.8 L455.1 257.8 L455.7 255.7 L456.3 253.8 L456.9 252.1 L457.5 251.1 L457.5 251.1 L458.1 253.2 L458.7 256.4 L459.3 260.4 L459.9 264.6 L460.5 268.7 L461.1 272.3 L461.7 274.8 L461.9 275.3 L462.3 274.5 L462.9 272.7 L463.5 270.4 L464.1 268.0 L464.7 266.0 L465.1 265.1 L465.3 265.0 L465.9 264.7 L466.5 264.4 L467.1 264.1 L467.7 263.9 L468.3 263.7 L468.9 263.5 L469.5 263.3 L470.1 263.2 L470.2 263.2 L470.7 263.9 L471.3 265.2 L471.9 266.7 L472.5 268.0 L472.8 268.3 L473.1 267.9 L473.7 266.6 L474.3 264.8 L474.9 262.8 L475.5 261.0 L476.1 259.5 L476.6 258.7 L476.7 258.9 L477.3 260.8 L477.9 263.5 L478.5 266.9 L479.1 270.3 L479.7 273.7 L480.3 276.4 L480.9 278.3 L481.0 278.5 L481.5 277.3 L482.1 274.9 L482.7 272.3 L483.3 270.2 L483.6 269.6 L483.9 270.0 L484.5 271.3 L485.1 273.0 L485.7 274.8 L486.3 276.4 L486.8 277.2 L486.9 277.2 L487.5 277.3 L488.1 277.4 L488.7 277.5 L489.3 277.5 L489.9 277.6 L490.5 277.6 L491.1 277.7 L491.7 277.8 L491.9 277.8 L492.3 278.1 L492.9 278.8 L493.5 279.6 L494.1 280.5 L494.7 281.5 L495.3 282.5 L495.9 283.6 L496.5 284.6 L497.1 285.5 L497.7 286.3 L498.3 287.0 L498.9 287.4 L498.9 287.4 L499.5 286.8 L500.1 285.9 L500.7 284.8 L501.3 283.6 L501.9 282.3 L502.5 281.0 L503.1 279.8 L503.7 278.8 L504.3 278.0 L504.6 277.8 L504.9 278.2 L505.5 279.4 L506.1 281.1 L506.7 283.0 L507.3 285.1 L507.9 287.0 L508.5 288.7 L509.0 289.9 L509.1 290.0 L509.7 290.8 L510.3 291.5 L510.9 292.2 L511.5 292.8 L512.1 293.3 L512.7 293.7 L512.9 293.8 L513.3 292.9 L513.9 290.6 L514.5 288.0 L515.1 285.6 L515.4 284.8 L515.7 284.5 L516.3 283.9 L516.9 283.4 L517.5 282.9 L518.1 282.5 L518.7 282.1 L519.3 281.8 L519.5 281.7 L519.9 281.6 L520.5 281.5 L521.1 281.4 L521.7 281.3 L522.3 281.2 L522.9 281.1 L523.5 281.0 L523.9 281.0 L524.1 281.3 L524.7 283.0 L525.3 285.2 L525.9 287.4 L526.5 288.7 L526.5 288.7 L527.1 288.6 L527.7 288.4 L528.3 288.2 L528.9 287.9 L529.5 287.7 L530.1 287.5 L530.3 287.4 L530.7 287.3 L531.3 287.1 L531.9 286.9 L532.5 286.8 L533.1 286.5 L533.7 286.3 L534.1 286.1 L534.3 285.6 L534.9 283.1 L535.5 279.9 L536.1 276.8 L536.7 274.4 L536.9 274.0 L537.3 274.7 L537.9 276.4 L538.5 278.6 L539.1 281.0 L539.7 283.4 L540.3 285.5 L540.5 286.1 L540.9 286.9 L541.5 288.2 L542.1 289.5 L542.7 290.8 L543.3 291.9 L543.9 293.0 L544.5 293.9 L545.1 294.6 L545.6 295.0 L545.7 294.9 L546.3 293.8 L546.9 292.2 L547.5 290.3 L548.1 288.2 L548.7 286.1 L549.3 284.1 L549.9 282.4 L550.5 281.3 L550.7 281.0 L551.1 281.0 L551.7 281.0 L552.3 281.0 L552.9 281.0 L553.2 281.0 L553.5 280.8 L554.1 280.0 L554.7 278.9 L555.3 277.9 L555.9 277.3 L556.0 277.2 L556.5 278.7 L557.1 281.6 L557.7 285.0 L558.3 288.0 L558.9 289.9 L558.9 289.9 L559.5 289.5 L560.1 288.8 L560.7 288.0 L561.3 287.5 L561.5 287.4 L561.9 288.1 L562.5 289.7 L563.1 291.8 L563.7 294.1 L564.3 296.4 L564.9 298.5 L565.5 300.1 L565.9 300.8 L566.1 300.5 L566.7 298.8 L567.3 296.6 L567.9 294.0 L568.5 291.4 L569.1 289.3 L569.7 288.0 L569.7 288.0 L570.3 288.5 L570.9 289.3 L571.5 290.3 L572.1 291.4 L572.7 292.5 L573.3 293.4 L573.6 293.8 L573.9 294.1 L574.5 294.6 L575.1 295.2 L575.7 295.8 L576.3 296.3 L576.9 296.9 L577.5 297.4 L578.1 297.9 L578.7 298.4 L579.3 298.9 L579.9 299.3 L580.5 299.7 L581.1 300.1 L581.7 300.5 L582.3 300.8 L582.9 301.1 L583.5 301.3 L583.8 301.4 L584.1 301.1 L584.7 300.4 L585.3 299.3 L585.9 298.1 L586.5 296.7 L587.1 295.3 L587.7 293.9 L588.3 292.6 L588.9 291.4 L589.5 290.5 L590.1 289.9 L590.1 289.9 L590.7 290.6 L591.3 291.7 L591.9 292.8 L592.5 293.6 L592.7 293.8 L593.1 293.2 L593.7 291.7 L594.3 289.9 L594.9 287.8 L595.5 285.6 L596.1 283.8 L596.7 282.3 L597.1 281.7 L597.3 281.9 L597.9 282.7 L598.5 283.8 L599.1 285.1 L599.7 286.5 L600.3 288.0 L600.9 289.5 L601.5 291.0 L601.6 291.2 L602.1 292.5 L602.7 294.3 L603.3 296.1 L603.9 298.0 L604.5 299.8 L605.1 301.5 L605.7 303.0 L606.3 304.1 L606.7 304.6 L606.9 304.6 L607.5 304.4 L608.1 304.1 L608.7 303.8 L609.3 303.5 L609.9 303.1 L610.5 302.7 L610.5 302.7 L611.1 301.7 L611.7 300.3 L612.3 298.8 L612.9 297.5 L613.5 296.5 L613.7 296.3 L614.1 296.9 L614.7 298.4 L615.3 300.2 L615.9 301.6 L616.2 302.0 L616.5 301.8 L617.1 301.3 L617.7 300.5 L618.3 299.8 L618.9 299.1 L619.4 298.8 L619.5 298.8 L620.1 299.1 L620.7 299.4 L621.3 299.8 L621.9 300.1 L622.0 300.1 L622.5 299.5 L623.1 298.2 L623.7 296.9 L624.3 295.9 L624.5 295.7 L624.9 296.4 L625.5 298.0 L626.1 300.1 L626.7 302.3 L627.3 304.2 L627.7 305.2 L627.9 305.5 L628.5 306.2 L629.1 306.9 L629.7 307.5 L630.2 307.8 L630.3 307.8 L630.9 307.3 L631.5 306.7 L632.1 306.0 L632.7 305.2 L633.3 304.4 L633.9 303.6 L634.5 302.9 L634.7 302.7 L635.1 302.3 L635.7 301.7 L636.3 301.1 L636.9 300.5 L637.5 300.1 L638.1 299.7 L638.5 299.5 L638.7 299.5 L639.3 299.7 L639.9 300.0 L640.5 300.4 L641.1 300.7 L641.7 301.1 L642.3 301.4 L642.3 301.4 L642.9 301.8 L643.5 302.2 L644.1 302.6 L644.5 302.7 L644.7 302.3 L645.3 300.3 L645.9 297.7 L646.5 295.9 L646.6 295.7 L647.1 296.4 L647.7 297.8 L648.3 299.5 L648.9 301.4 L649.5 303.2 L650.1 304.8 L650.7 305.8 L650.8 305.9 L651.3 305.6 L651.9 305.1 L652.5 304.5 L653.1 303.9 L653.7 303.3 L654.3 302.8 L654.6 302.7 L654.9 302.8 L655.5 303.2 L656.1 303.6 L656.7 304.1 L657.3 304.7 L657.9 305.4 L658.5 306.0 L659.1 306.5 L659.7 307.1 L660.3 307.5 L660.9 307.8 L661.0 307.8 L661.5 307.2 L662.1 306.0 L662.7 304.6 L663.3 302.9 L663.9 301.2 L664.5 299.5 L665.1 298.0 L665.7 296.8 L666.1 296.3 L666.3 296.2 L666.9 296.1 L667.5 296.0 L668.1 295.8 L668.7 295.8 L669.3 295.7 L669.3 295.7 L669.9 296.3 L670.5 297.2 L671.1 298.3 L671.7 299.5 L672.3 300.7 L672.9 301.9 L673.5 302.9 L674.1 303.7 L674.4 303.9 L674.7 303.9 L675.3 303.9 L675.9 303.8 L676.5 303.8 L677.1 303.7 L677.7 303.7 L678.3 303.6 L678.9 303.5 L679.5 303.5 L680.1 303.4 L680.7 303.3 L680.7 303.3 L681.3 302.5 L681.9 301.3 L682.5 299.8 L683.1 298.3 L683.7 297.0 L684.3 296.0 L684.6 295.7 L684.9 296.1 L685.5 297.2 L686.1 298.8 L686.7 300.5 L687.3 302.2 L687.9 303.7 L688.4 304.6 L688.5 304.7 L689.1 305.1 L689.7 305.4 L690.3 305.8 L690.9 306.1 L691.5 306.3 L692.1 306.5 L692.2 306.5 L692.7 306.3 L693.3 306.0 L693.9 305.6 L694.5 305.2 L695.1 304.7 L695.7 304.2 L696.0 303.9 L696.3 303.4 L696.9 302.2 L697.5 300.7 L698.1 299.3 L698.7 298.2 L699.2 297.6 L699.3 297.7 L699.9 298.3 L700.5 299.3 L701.1 300.4 L701.7 301.6 L702.3 302.8 L702.9 303.8 L703.5 304.5 L703.7 304.6 L704.1 304.5 L704.7 304.2 L705.3 303.8 L705.9 303.4 L706.5 302.9 L706.8 302.7 L707.1 302.4 L707.7 301.8 L708.3 301.1 L708.9 300.4 L709.5 299.7 L710.1 299.2 L710.7 298.8 L710.7 298.8 L711.3 299.5 L711.9 300.5 L712.5 301.7 L713.1 303.1 L713.7 304.4 L714.3 305.5 L714.9 306.3 L715.1 306.5 L715.5 306.4 L716.1 306.3 L716.7 306.1 L717.3 305.9 L717.9 305.6 L718.5 305.4 L719.1 305.3 L719.6 305.2 L719.7 305.3 L720.3 306.0 L720.9 307.1 L721.5 308.4 L722.1 309.5 L722.7 310.2 L722.8 310.3 L723.3 310.0 L723.9 309.4 L724.5 308.6 L725.1 307.7 L725.7 306.8 L725.9 306.5 L726.3 305.4 L726.9 303.1 L727.5 300.7 L728.1 298.3 L728.7 296.5 L729.1 295.7 L729.3 295.8 L729.9 296.2 L730.5 296.8 L731.1 297.6 L731.7 298.4 L732.3 299.2 L732.9 300.1 L732.9 300.1 L733.5 301.6 L734.1 303.4 L734.7 305.3 L735.3 306.9 L735.9 308.1 L736.1 308.4 L736.5 307.9 L737.1 306.8 L737.7 305.4 L738.3 303.8 L738.9 302.4 L739.5 301.3 L739.9 300.8 L740.1 301.0 L740.7 301.8 L741.3 302.8 L741.9 304.1 L742.5 305.4 L743.1 306.7 L743.7 307.7 L743.8 307.8 L744.3 308.2 L744.9 308.8 L745.5 309.3 L746.1 309.8 L746.7 310.2 L747.3 310.5 L747.9 310.8 L748.2 310.9 L748.5 310.8 L749.1 310.4 L749.7 309.9 L750.3 309.3 L750.9 308.6 L751.5 307.9 L752.1 307.2 L752.7 306.6 L753.3 306.0 L753.9 305.6 L754.5 305.2 L754.6 305.2 L755.1 305.5 L755.7 306.1 L756.3 306.8 L756.9 307.7 L757.5 308.6 L758.1 309.5 L758.7 310.4 L759.3 311.3 L759.9 312.0 L760.5 312.6 L761.0 312.9 L761.1 312.9 L761.7 312.9 L762.3 312.9 L762.9 312.9 L763.5 312.9 L764.1 312.9 L764.7 312.9 L765.0 312.9 L765.3 312.9 L765.9 312.8 L766.5 312.7 L767.1 312.5 L767.7 312.3 L768.3 312.2 L768.9 312.0 L769.5 311.8 L770.1 311.6 L770.1 311.6 L770.7 311.3 L771.3 310.9 L771.9 310.5 L772.5 310.1 L773.1 309.7 L773.7 309.3 L774.3 308.9 L774.9 308.6 L775.2 308.4 L775.5 308.3 L776.1 308.0 L776.7 307.8 L777.3 307.5 L777.9 307.3 L778.5 307.1 L779.1 306.9 L779.7 306.7 L780.3 306.6 L780.9 306.5 L780.9 306.5 L781.5 306.7 L782.1 306.9 L782.7 307.3 L783.3 307.5 L783.9 307.8 L784.1 307.8 L784.5 307.5 L785.1 306.7 L785.7 305.6 L786.3 304.5 L786.9 303.5 L787.5 302.8 L787.7 302.7 L788.1 303.0 L788.7 303.8 L789.3 304.8 L789.9 306.0 L790.5 307.2 L791.1 308.4 L791.7 309.4 L792.3 310.2 L792.4 310.3 L792.9 310.5 L793.5 310.8 L794.1 311.0 L794.7 311.3 L795.3 311.5 L795.9 311.7 L796.5 311.9 L797.1 312.1 L797.7 312.3 L798.3 312.4 L798.9 312.6 L799.5 312.7 L800.1 312.8 L800.7 312.9 L800.7 312.9 L801.3 312.9 L801.9 312.9 L802.5 312.9 L803.1 312.9 L803.7 312.9 L804.3 312.9 L804.9 312.9 L805.5 312.9 L806.1 312.9 L806.7 312.9 L807.3 312.9 L807.9 312.9 L808.3 312.9 L808.5 312.8 L809.1 312.2 L809.7 311.5 L810.3 310.6 L810.9 309.6 L811.5 308.7 L812.1 307.8 L812.7 307.0 L813.3 306.6 L813.4 306.5 L813.9 306.8 L814.5 307.3 L815.1 307.9 L815.7 308.7 L816.3 309.4 L816.9 310.2 L817.5 310.8 L818.1 311.3 L818.5 311.6 L818.7 311.6 L819.3 311.7 L819.9 311.8 L820.5 311.9 L821.1 311.9 L821.7 312.0 L822.3 312.0 L822.9 312.1 L823.5 312.1 L824.1 312.2 L824.7 312.2 L824.8 312.2 L825.3 311.8 L825.9 310.9 L826.5 309.8 L827.1 308.7 L827.7 307.6 L828.3 306.8 L828.7 306.5 L828.9 306.5 L829.5 306.5 L830.1 306.5 L830.7 306.5 L831.3 306.5 L831.9 306.5 L832.5 306.5 L833.1 306.5 L833.7 306.5 L834.3 306.5 L834.9 306.5 L835.0 306.5 L835.5 306.7 L836.1 307.1 L836.7 307.6 L837.3 308.2 L837.9 308.7 L838.5 309.3 L839.1 309.8 L839.7 310.1 L840.1 310.3 L840.3 310.2 L840.9 309.5 L841.5 308.6 L842.1 307.5 L842.7 306.3 L843.3 305.2 L843.9 304.0 L844.5 303.1 L845.1 302.3 L845.5 302.0 L845.7 302.2 L846.3 302.9 L846.9 303.9 L847.5 305.1 L848.1 306.3 L848.7 307.4 L849.0 307.8 L849.3 308.1 L849.9 308.6 L850.5 309.2 L851.1 309.7 L851.7 310.2 L852.3 310.7 L852.9 311.1 L853.5 311.4 L854.1 311.6 L854.1 311.6 L854.7 310.8 L855.3 309.5 L855.9 308.0 L856.5 306.5 L857.1 305.1 L857.7 304.1 L857.9 303.9 L858.3 304.1 L858.9 304.4 L859.5 304.9 L860.1 305.4 L860.7 305.9 L861.3 306.3 L861.8 306.5 L861.9 306.5 L862.5 306.4 L863.1 306.2 L863.7 306.1 L864.3 305.9 L864.9 305.7 L865.5 305.5 L866.1 305.3 L866.7 305.2 L866.9 305.2 L867.3 305.3 L867.9 305.5 L868.5 305.7 L869.1 306.0 L869.7 306.2 L870.3 306.4 L870.7 306.5 L870.9 306.4 L871.5 305.9 L872.1 305.1 L872.7 304.3 L873.3 303.4 L873.9 302.5 L874.5 301.8 L875.1 301.4 L875.1 301.4 L875.7 302.1 L876.3 303.3 L876.9 304.7 L877.5 306.2 L878.1 307.7 L878.7 309.0 L879.3 310.0 L879.6 310.3 L879.9 309.9 L880.5 308.8 L881.1 307.3 L881.7 305.6 L882.3 304.0 L882.9 302.7 L883.4 302.0 L883.5 302.1 L884.1 302.9 L884.7 304.2 L885.3 305.6 L885.9 307.2 L886.5 308.6 L887.1 309.8 L887.5 310.3 L887.7 310.4 L888.3 310.6 L888.9 310.8 L889.5 310.9 L890.1 311.1 L890.7 311.2 L891.3 311.3 L891.9 311.5 L892.5 311.6 L892.6 311.6 L893.1 311.7 L893.7 311.8 L894.3 311.8 L894.9 311.9 L895.5 312.0 L896.1 312.1 L896.7 312.1 L897.3 312.2 L897.7 312.2 L897.9 312.1 L898.5 311.5 L899.1 310.7 L899.7 309.7 L900.3 308.8 L900.9 307.9 L901.5 307.2 L901.6 307.1 L902.1 306.8 L902.7 306.6 L903.3 306.3 L903.9 306.1 L904.5 305.9 L904.7 305.9 L905.1 306.2 L905.7 307.1 L906.3 308.1 L906.9 309.1 L907.5 310.0 L907.9 310.3 L908.1 310.2 L908.7 309.4 L909.3 308.5 L909.9 307.4 L910.5 306.5 L911.1 305.9 L911.1 305.9 L911.7 306.4 L912.3 307.1 L912.9 307.8 L913.5 308.4 L913.6 308.4 L914.1 308.0 L914.7 307.2 L915.3 306.4 L915.9 305.7 L916.2 305.5 L916.5 305.5 L917.1 305.6 L917.7 305.8 L918.3 306.0 L918.9 306.1 L919.5 306.3 L920.0 306.5 L920.1 306.5 L920.7 306.9 L921.3 307.2 L921.9 307.6 L922.5 308.0 L923.1 308.4 L923.7 308.9 L923.8 309.0 L924.3 309.7 L924.9 310.8 L925.5 311.8 L926.1 312.7 L926.4 312.9 L926.7 312.9 L927.3 312.9 L927.9 312.9 L928.5 312.9 L929.1 312.9 L929.7 312.9 L930.3 312.9 L930.9 312.9 L931.5 312.9 L932.1 312.9 L932.1 312.9 L932.7 312.8 L933.3 312.6 L933.9 312.4 L934.5 312.2 L935.1 312.0 L935.7 311.7 L936.3 311.5 L936.9 311.3 L937.5 311.1 L938.1 311.0 L938.5 310.9 L938.7 311.0 L939.3 311.2 L939.9 311.6 L940.5 312.0 L941.1 312.4 L941.7 312.7 L942.3 312.9 L942.3 312.9 L942.9 312.9 L943.5 312.8 L944.1 312.7 L944.7 312.6 L945.3 312.5 L945.9 312.4 L946.5 312.3 L947.1 312.2 L947.4 312.2 L947.7 312.2 L948.3 312.3 L948.9 312.3 L949.5 312.4 L950.1 312.5 L950.7 312.6 L951.3 312.7 L951.9 312.9 L952.5 313.0 L953.1 313.1 L953.7 313.2 L954.3 313.3 L954.9 313.4 L955.5 313.4 L956.1 313.5 L956.3 313.5 L956.7 313.5 L957.3 313.5 L957.9 313.4 L958.5 313.4 L959.1 313.4 L959.7 313.3 L960.3 313.3 L960.9 313.2 L961.5 313.2 L962.1 313.1 L962.7 313.0 L963.3 313.0 L963.9 312.9 L963.9 312.9 L964.5 312.4 L965.1 311.7 L965.7 310.9 L966.3 310.1 L966.9 309.4 L967.5 309.0 L967.5 309.0 L968.1 309.7 L968.7 310.8 L969.3 312.1 L969.9 313.1 L970.3 313.5 L970.5 313.5 L971.1 313.4 L971.7 313.3 L972.3 313.2 L972.9 313.0 L973.0 313.0 L973.5 312.6 L974.1 311.8 L974.7 311.0 L975.3 310.3 L975.9 309.7 L976.0 309.7 L976.5 310.1 L977.1 310.8 L977.7 311.8 L978.3 312.6 L978.9 313.3 L979.2 313.5 L979.5 313.5 L980.1 313.5 L980.7 313.5 L981.3 313.4 L981.9 313.4 L982.5 313.4 L983.1 313.4 L983.7 313.4 L984.3 313.3 L984.9 313.3 L985.5 313.3 L986.1 313.2 L986.7 313.2 L987.3 313.2 L987.9 313.1 L988.5 313.1 L989.1 313.0 L989.7 313.0 L990.3 312.9 L990.7 312.9 L990.9 312.8 L991.5 312.6 L992.1 312.3 L992.7 311.9 L993.2 311.6 L993.3 311.5 L993.9 310.8 L994.5 309.8 L995.1 308.9 L995.7 308.1 L996.3 307.6 L996.4 307.5 L996.9 308.2 L997.5 309.6 L998.1 311.2 L998.7 312.5 L999.0 312.9 L999.3 313.0 L999.9 313.1 L1000.5 313.2 L1001.1 313.3 L1001.7 313.4 L1002.3 313.5 L1002.8 313.5 L1002.9 313.5 L1003.5 313.5 L1003.6 313.5" fill="none" stroke="#ff7f0e" stroke-width="4.0" stroke-linejoin="round" stroke-linecap="butt" clip-path="url(#ca)"/>
<path d="M81.3 662.0 L81.9 661.7 L82.5 661.4 L82.5 661.4 L83.1 661.2 L83.7 660.9 L84.3 660.7 L84.9 660.5 L85.5 660.2 L85.6 660.1 L86.1 659.1 L86.7 657.4 L87.3 655.6 L87.9 654.2 L88.2 653.8 L88.5 654.1 L89.1 655.0 L89.7 656.2 L90.3 657.2 L90.7 657.6 L90.9 657.4 L91.5 656.2 L92.1 654.5 L92.7 652.8 L93.3 651.1 L93.9 649.9 L93.9 649.9 L94.5 649.5 L95.1 649.1 L95.7 648.8 L96.3 648.5 L96.9 648.2 L97.5 648.0 L97.7 648.0 L98.1 648.2 L98.7 648.7 L99.3 649.4 L99.9 650.2 L100.5 651.0 L101.1 651.7 L101.7 652.2 L102.2 652.5 L102.3 652.5 L102.9 652.1 L103.5 651.5 L104.1 650.8 L104.7 650.0 L105.3 649.1 L105.4 649.0 L105.9 647.6 L106.5 645.5 L107.1 643.1 L107.7 640.8 L108.3 638.7 L108.9 637.1 L109.2 636.6 L109.5 637.1 L110.1 638.6 L110.7 640.7 L111.3 643.0 L111.9 645.3 L112.5 647.4 L113.0 648.7 L113.1 648.8 L113.7 649.6 L114.3 650.3 L114.9 650.9 L115.5 651.5 L116.1 652.1 L116.7 652.7 L117.0 653.0 L117.3 653.3 L117.9 654.1 L118.5 654.8 L119.1 655.5 L119.7 656.2 L120.3 656.7 L120.7 656.9 L120.9 656.9 L121.5 656.6 L122.1 656.4 L122.7 656.0 L123.3 655.6 L123.9 655.3 L124.5 654.9 L125.1 654.5 L125.7 654.3 L126.3 654.0 L126.5 654.0 L126.9 654.0 L127.5 654.0 L128.1 654.1 L128.7 654.1 L129.3 654.2 L129.9 654.2 L130.5 654.3 L131.1 654.3 L131.7 654.4 L132.3 654.4 L132.7 654.4 L132.9 654.2 L133.5 653.5 L134.1 652.5 L134.7 651.2 L135.3 649.9 L135.9 648.5 L136.5 647.1 L137.1 645.9 L137.7 644.9 L137.8 644.8 L138.3 644.3 L138.9 643.8 L139.5 643.4 L140.1 643.0 L140.4 642.9 L140.7 643.0 L141.3 643.1 L141.9 643.4 L142.5 643.7 L143.1 644.0 L143.6 644.2 L143.7 644.2 L144.3 644.5 L144.9 644.9 L145.5 645.2 L146.1 645.5 L146.7 645.8 L147.3 646.0 L147.5 646.0 L147.9 646.0 L148.5 646.0 L149.1 646.1 L149.7 646.1 L150.3 646.1 L150.6 646.1 L150.9 645.7 L151.5 644.7 L152.1 643.3 L152.7 641.6 L153.3 639.9 L153.9 638.3 L154.4 637.2 L154.5 637.0 L155.1 636.0 L155.7 635.1 L156.3 634.1 L156.9 633.2 L157.5 632.3 L158.1 631.5 L158.7 630.7 L159.3 629.9 L159.5 629.6 L159.9 629.1 L160.5 628.4 L161.1 627.7 L161.7 627.1 L162.3 626.6 L162.7 626.4 L162.9 626.4 L163.5 626.5 L164.1 626.7 L164.7 626.8 L165.3 626.9 L165.9 627.0 L165.9 627.0 L166.5 626.3 L167.1 625.2 L167.7 623.8 L168.3 622.2 L168.9 620.5 L169.5 618.9 L170.1 617.4 L170.7 616.2 L171.3 615.2 L171.6 614.9 L171.9 615.0 L172.5 615.5 L173.1 616.0 L173.7 616.7 L174.3 617.4 L174.9 618.0 L175.5 618.4 L176.0 618.7 L176.1 618.5 L176.7 616.7 L177.3 614.0 L177.9 610.8 L178.5 607.4 L179.1 604.2 L179.7 601.4 L180.3 599.4 L180.5 599.0 L180.9 600.2 L181.5 603.0 L182.1 606.6 L182.7 610.7 L183.3 614.8 L183.9 618.5 L184.5 621.4 L185.0 623.0 L185.1 622.9 L185.7 621.5 L186.3 619.6 L186.9 617.4 L187.5 615.1 L188.1 613.1 L188.5 612.0 L188.7 611.7 L189.3 610.8 L189.9 610.0 L190.5 609.3 L191.1 608.6 L191.7 608.2 L192.0 608.0 L192.3 608.3 L192.9 609.2 L193.5 610.4 L194.1 611.9 L194.7 613.3 L195.3 614.6 L195.9 615.7 L196.4 616.2 L196.5 616.1 L197.1 615.3 L197.7 614.1 L198.3 612.7 L198.9 611.3 L199.5 610.1 L200.1 609.3 L200.2 609.2 L200.7 609.2 L201.3 609.3 L201.9 609.4 L202.5 609.4 L203.1 609.6 L203.7 609.7 L204.1 609.8 L204.3 610.3 L204.9 612.9 L205.1 613.4 L205.5 613.3 L206.1 613.1 L206.7 612.9 L207.3 612.7 L207.9 612.4 L208.5 612.1 L209.1 611.8 L209.7 611.4 L210.3 611.0 L210.9 610.6 L211.5 610.2 L211.5 610.2 L212.1 609.3 L212.7 608.1 L213.3 606.8 L213.9 605.4 L214.5 604.1 L215.1 602.7 L215.7 601.5 L216.0 601.0 L216.3 600.6 L216.9 600.0 L217.5 599.4 L218.1 598.8 L218.7 598.2 L219.3 597.6 L219.9 596.9 L220.4 596.2 L220.5 595.9 L221.1 593.5 L221.7 590.4 L222.3 587.1 L222.9 583.8 L223.5 581.1 L224.1 579.2 L224.2 579.0 L224.7 579.7 L225.3 581.1 L225.9 582.8 L226.5 584.7 L227.1 586.6 L227.7 588.2 L228.3 589.4 L228.6 589.8 L228.9 589.0 L229.5 586.4 L230.1 583.0 L230.7 579.1 L231.3 575.1 L231.8 572.0 L231.9 571.4 L232.5 567.1 L233.1 562.4 L233.7 557.6 L234.3 553.1 L234.9 549.1 L235.5 546.0 L235.9 544.6 L236.1 545.2 L236.7 548.0 L237.3 551.9 L237.9 556.3 L238.5 560.4 L239.1 563.7 L239.5 565.0 L239.7 564.7 L240.3 563.3 L240.9 561.4 L241.5 559.1 L242.1 556.7 L242.7 554.5 L243.3 552.7 L243.9 551.6 L243.9 551.6 L244.5 553.4 L245.1 556.3 L245.7 559.9 L246.3 563.7 L246.9 567.5 L247.5 570.7 L248.1 573.1 L248.4 573.9 L248.7 573.5 L249.3 572.3 L249.9 570.7 L250.5 568.8 L251.1 566.7 L251.7 564.8 L252.3 563.0 L252.9 561.5 L253.5 560.6 L253.5 560.6 L254.1 560.7 L254.7 560.8 L255.3 561.0 L255.9 561.2 L256.5 561.4 L257.1 561.7 L257.3 561.8 L257.7 562.9 L258.3 565.3 L258.9 568.3 L259.5 571.5 L260.1 574.5 L260.7 576.7 L261.1 577.7 L261.3 577.1 L261.9 574.4 L262.5 570.7 L263.1 566.3 L263.7 561.8 L263.7 561.8 L264.3 554.6 L264.9 546.2 L265.5 539.0 L265.8 536.6 L266.1 536.1 L266.7 535.4 L267.3 534.8 L267.9 534.1 L268.0 534.0 L268.5 532.3 L269.1 529.7 L269.7 526.7 L270.3 523.8 L270.9 521.3 L271.5 519.6 L271.6 519.4 L272.1 520.5 L272.7 522.5 L273.3 525.0 L273.9 527.9 L274.5 530.9 L275.1 533.9 L275.7 536.7 L276.0 537.9 L276.3 539.0 L276.9 541.5 L277.5 543.9 L278.1 546.0 L278.7 547.5 L278.9 547.8 L279.3 546.4 L279.9 543.3 L280.5 539.3 L281.1 534.5 L281.7 529.3 L282.3 523.9 L282.9 518.4 L283.5 513.1 L284.1 508.3 L284.7 504.1 L285.3 500.9 L285.8 499.0 L285.9 499.4 L286.5 503.2 L287.1 508.8 L287.7 515.4 L288.3 522.4 L288.9 529.1 L289.5 535.0 L289.5 535.0 L290.1 539.6 L290.7 544.3 L291.3 549.1 L291.9 553.8 L292.5 558.3 L293.1 562.3 L293.7 565.8 L294.3 568.7 L294.9 570.7 L294.9 570.7 L295.5 569.6 L296.1 568.0 L296.7 566.2 L297.3 564.0 L297.9 561.7 L298.5 559.1 L299.1 556.4 L299.7 553.7 L300.3 550.9 L300.9 548.2 L301.5 545.6 L301.9 544.0 L302.1 543.1 L302.7 540.2 L303.3 537.2 L303.9 534.4 L304.5 532.1 L304.7 531.5 L305.1 530.9 L305.7 530.1 L306.3 529.4 L306.9 528.8 L307.5 528.3 L308.0 528.0 L308.1 528.1 L308.7 529.0 L309.3 530.3 L309.9 531.8 L310.5 533.3 L311.1 534.5 L311.7 535.3 L311.7 535.3 L312.3 532.3 L312.9 527.8 L313.5 522.1 L314.1 516.0 L314.7 510.0 L315.3 504.7 L315.9 500.7 L316.1 499.7 L316.5 499.2 L317.1 498.7 L317.7 498.2 L318.3 497.6 L318.7 497.1 L318.9 496.3 L319.5 492.5 L320.1 487.9 L320.7 484.2 L321.0 483.1 L321.3 484.6 L321.9 489.4 L322.5 495.7 L323.1 502.8 L323.7 509.6 L324.3 515.4 L324.4 516.2 L324.9 519.0 L325.5 522.4 L326.1 525.6 L326.7 528.7 L327.3 531.4 L327.9 533.6 L328.5 535.4 L328.8 536.0 L329.1 535.1 L329.7 532.5 L330.3 529.1 L330.9 525.1 L331.5 520.8 L332.1 516.3 L332.7 512.0 L333.0 510.0 L333.3 507.8 L333.9 502.8 L334.5 497.5 L335.1 492.0 L335.7 486.7 L336.3 481.9 L336.9 477.8 L337.5 474.7 L337.8 473.6 L338.1 475.3 L338.7 480.5 L339.3 487.5 L339.9 495.5 L340.5 503.7 L341.1 511.4 L341.7 517.6 L342.0 520.0 L342.3 521.0 L342.9 522.7 L343.5 524.3 L344.1 525.6 L344.7 526.9 L345.3 528.3 L345.9 529.7 L346.0 530.0 L346.5 531.5 L347.1 533.6 L347.7 535.7 L348.3 537.8 L348.9 539.7 L349.5 541.3 L350.1 542.4 L350.2 542.5 L350.7 539.9 L351.3 535.1 L351.9 529.1 L352.5 522.3 L353.1 515.4 L353.7 509.0 L354.3 503.7 L354.9 500.1 L355.0 499.7 L355.5 500.4 L356.1 501.8 L356.7 503.3 L357.3 504.5 L357.5 504.7 L357.9 504.2 L358.5 503.1 L359.1 501.7 L359.7 500.6 L360.0 500.3 L360.3 502.8 L360.9 511.3 L361.5 521.8 L362.0 530.0 L362.1 531.5 L362.7 541.2 L363.3 551.3 L363.9 560.0 L364.5 565.6 L364.5 565.6 L365.1 563.7 L365.7 560.9 L366.3 557.5 L366.9 553.6 L367.5 549.5 L368.1 545.5 L368.7 541.7 L369.0 540.0 L369.3 538.5 L369.9 535.4 L370.5 532.5 L371.1 529.5 L371.7 526.6 L372.3 523.6 L372.9 520.5 L373.0 520.0 L373.5 517.3 L374.1 514.2 L374.7 511.0 L375.3 507.7 L375.9 504.0 L376.5 500.0 L376.5 500.0 L377.1 492.3 L377.7 482.8 L378.3 472.7 L378.9 463.5 L379.5 456.6 L379.8 454.4 L380.1 456.8 L380.7 464.5 L381.3 475.0 L381.9 486.7 L382.5 498.4 L383.1 508.5 L383.7 515.6 L383.9 517.1 L384.3 514.0 L384.9 506.4 L385.5 496.8 L386.1 486.6 L386.7 477.4 L387.3 470.9 L387.5 469.6 L387.9 471.0 L388.5 474.3 L389.1 478.5 L389.7 483.1 L390.3 487.6 L390.9 491.6 L390.9 491.6 L391.5 494.7 L392.1 498.0 L392.7 501.2 L393.3 504.4 L393.9 507.2 L394.5 509.6 L395.1 511.5 L395.5 512.4 L395.7 511.4 L396.3 507.0 L396.9 500.9 L397.5 493.7 L398.1 486.1 L398.6 480.0 L398.7 478.5 L399.3 468.3 L399.9 456.7 L400.5 445.2 L401.1 435.7 L401.7 429.5 L401.7 429.5 L402.3 438.6 L402.9 453.0 L403.5 466.9 L404.0 474.0 L404.1 473.2 L404.7 465.9 L405.3 455.0 L405.9 442.0 L406.5 428.4 L407.1 415.4 L407.7 404.5 L408.3 397.2 L408.4 396.4 L408.9 402.2 L409.5 412.6 L410.1 425.7 L410.7 440.5 L411.3 455.7 L411.9 470.3 L412.5 483.1 L412.6 485.0 L413.1 493.3 L413.7 503.4 L414.3 512.3 L414.9 518.4 L415.0 519.0 L415.5 517.1 L416.1 513.7 L416.7 509.3 L417.3 504.4 L417.9 499.2 L418.5 494.1 L419.0 490.0 L419.1 489.1 L419.7 483.3 L420.3 476.7 L420.9 470.0 L421.5 463.6 L422.1 458.1 L422.7 453.7 L423.1 451.8 L423.3 454.1 L423.9 466.2 L424.5 482.2 L425.1 497.6 L425.3 501.8 L425.7 508.1 L426.3 517.8 L426.9 526.9 L427.5 534.6 L428.1 540.2 L428.3 541.4 L428.7 537.7 L429.3 528.8 L429.9 517.3 L430.5 504.4 L431.1 491.7 L431.7 480.5 L432.3 472.2 L432.6 469.6 L432.9 471.0 L433.5 475.7 L434.1 481.8 L434.7 488.1 L434.8 489.1 L435.3 495.3 L435.9 503.7 L436.5 512.9 L437.1 522.1 L437.7 530.8 L438.3 538.5 L438.9 544.6 L439.4 548.0 L439.5 547.9 L440.1 547.3 L440.7 546.4 L441.3 545.5 L441.8 545.1 L441.9 545.2 L442.5 546.3 L443.1 547.8 L443.7 549.7 L444.3 551.9 L444.9 554.0 L445.5 556.2 L446.1 558.1 L446.7 559.6 L447.3 560.7 L447.4 560.8 L447.9 560.4 L448.5 559.9 L449.1 559.2 L449.7 558.3 L450.3 557.4 L450.9 556.3 L451.5 555.2 L452.1 553.9 L452.5 553.1 L452.7 552.2 L453.3 548.5 L453.9 544.5 L454.5 541.6 L454.6 541.3 L455.1 542.6 L455.7 545.0 L456.3 548.1 L456.9 551.4 L457.5 554.7 L458.1 557.6 L458.7 559.7 L459.0 560.4 L459.3 557.6 L459.9 548.7 L460.5 536.6 L461.1 522.7 L461.7 508.3 L462.3 494.6 L462.9 483.0 L463.5 474.8 L463.7 473.0 L464.1 477.3 L464.7 487.7 L465.3 501.1 L465.9 516.0 L466.5 530.6 L467.1 543.2 L467.7 552.1 L467.9 554.0 L468.3 553.3 L468.9 551.6 L469.5 549.4 L470.1 546.8 L470.7 544.2 L471.3 541.7 L471.9 539.6 L472.5 538.0 L472.8 537.5 L473.1 539.1 L473.7 544.0 L474.3 550.7 L474.9 558.1 L475.5 565.7 L476.1 572.6 L476.5 576.4 L476.7 577.7 L477.3 581.5 L477.9 585.4 L478.5 589.2 L479.1 592.9 L479.7 596.4 L480.3 599.7 L480.9 602.6 L481.5 605.2 L482.1 607.3 L482.7 608.9 L482.8 609.1 L483.3 606.9 L483.9 603.1 L484.5 598.5 L485.1 593.1 L485.7 587.1 L486.3 580.8 L486.9 574.3 L487.5 567.8 L488.1 561.4 L488.7 555.5 L489.2 550.9 L489.3 550.1 L489.9 544.7 L490.5 539.1 L491.1 533.9 L491.7 529.7 L492.2 527.4 L492.3 527.7 L492.9 529.9 L493.5 533.1 L494.1 537.0 L494.7 541.4 L495.3 546.0 L495.9 550.7 L496.0 551.5 L496.5 557.5 L497.1 566.2 L497.7 575.9 L498.3 585.7 L498.9 595.0 L499.5 603.0 L500.1 609.0 L500.4 611.0 L500.7 610.4 L501.3 608.6 L501.9 606.3 L502.5 603.5 L503.1 600.4 L503.7 597.2 L504.3 593.9 L504.9 590.6 L505.5 587.4 L506.0 585.0 L506.1 584.5 L506.7 581.6 L507.3 578.4 L507.9 575.2 L508.5 572.2 L509.1 569.5 L509.7 567.4 L510.2 566.2 L510.3 566.6 L510.9 570.1 L511.5 575.2 L512.1 581.1 L512.7 587.2 L513.0 590.0 L513.3 593.1 L513.9 600.2 L514.5 607.6 L515.1 614.2 L515.7 618.9 L515.9 619.9 L516.3 619.7 L516.9 619.4 L517.5 618.9 L518.1 618.3 L518.7 617.8 L519.3 617.2 L519.9 616.7 L520.5 616.3 L521.0 616.1 L521.1 616.1 L521.7 616.1 L522.3 616.1 L522.9 616.1 L523.5 616.1 L524.1 616.1 L524.7 616.1 L525.3 616.1 L525.9 616.1 L526.1 616.1 L526.5 615.1 L527.1 612.9 L527.7 610.0 L528.3 606.6 L528.9 602.8 L529.5 598.6 L529.9 595.7 L530.1 592.7 L530.7 580.3 L531.3 565.6 L531.9 552.3 L532.5 543.9 L532.5 543.9 L533.1 551.9 L533.7 564.6 L534.3 579.5 L534.9 594.0 L535.5 605.7 L535.7 608.5 L536.1 610.9 L536.7 614.1 L537.3 617.0 L537.9 619.5 L538.5 621.6 L538.8 622.5 L539.1 623.0 L539.7 623.9 L540.3 624.7 L540.9 625.4 L541.4 625.7 L541.5 625.6 L542.1 624.5 L542.7 622.8 L543.3 620.9 L543.9 619.2 L544.5 618.1 L544.6 618.0 L545.1 618.7 L545.7 620.0 L546.3 621.7 L546.9 623.6 L547.5 625.4 L548.1 627.1 L548.7 628.4 L549.0 628.8 L549.3 628.9 L549.9 629.1 L550.5 629.2 L551.1 629.3 L551.7 629.4 L552.3 629.5 L552.9 629.6 L553.5 629.7 L554.1 629.8 L554.7 629.9 L555.0 630.0 L555.3 630.1 L555.9 630.2 L556.5 630.3 L557.1 630.5 L557.7 630.6 L558.3 630.8 L558.9 630.9 L559.5 631.0 L560.1 631.2 L560.7 631.3 L561.3 631.4 L561.8 631.4 L561.9 631.3 L562.5 630.6 L563.1 629.6 L563.7 628.4 L564.3 627.1 L564.9 625.7 L565.5 624.5 L566.1 623.4 L566.7 622.7 L566.9 622.5 L567.3 623.0 L567.9 624.1 L568.5 625.5 L569.1 627.2 L569.7 628.9 L570.3 630.6 L570.9 632.1 L571.5 633.3 L572.0 633.9 L572.1 633.9 L572.7 633.9 L573.3 633.9 L573.9 633.9 L574.5 633.9 L575.1 634.0 L575.7 634.0 L576.3 634.0 L576.9 634.0 L577.5 634.0 L578.1 634.0 L578.7 634.0 L579.3 634.0 L579.9 634.0 L580.0 634.0 L580.5 634.0 L581.1 633.9 L581.7 633.8 L582.3 633.8 L582.9 633.7 L583.5 633.6 L584.1 633.5 L584.7 633.3 L585.3 633.2 L585.9 633.1 L586.5 632.9 L587.1 632.7 L587.2 632.7 L587.7 632.0 L588.3 630.7 L588.9 629.2 L589.5 627.6 L590.1 625.8 L590.4 625.0 L590.7 623.9 L591.3 621.1 L591.9 618.2 L592.5 615.6 L593.1 613.8 L593.2 613.6 L593.7 614.9 L594.3 617.4 L594.9 620.2 L595.5 622.6 L595.7 623.1 L596.1 623.5 L596.7 624.0 L597.3 624.5 L597.9 625.0 L598.5 625.3 L599.1 625.6 L599.5 625.7 L599.7 625.6 L600.3 624.8 L600.9 623.9 L601.5 623.0 L602.0 622.5 L602.1 622.7 L602.7 624.4 L603.3 626.9 L603.9 629.5 L604.5 631.2 L604.6 631.4 L605.1 629.0 L605.7 624.3 L606.3 618.6 L606.9 613.2 L607.5 609.0 L607.8 607.8 L608.1 608.8 L608.7 612.1 L609.3 616.3 L609.9 620.9 L610.5 625.0 L610.5 625.0 L611.1 628.6 L611.7 632.2 L612.3 635.8 L612.9 638.9 L613.5 641.3 L613.6 641.6 L614.1 642.1 L614.7 642.7 L615.3 643.1 L615.9 643.4 L616.1 643.5 L616.5 643.2 L617.1 642.4 L617.7 641.5 L618.3 640.4 L618.9 639.5 L619.5 638.7 L619.9 638.4 L620.1 638.5 L620.7 638.8 L621.3 639.3 L621.9 639.8 L622.5 640.4 L623.1 641.1 L623.7 641.6 L624.3 642.1 L624.4 642.2 L624.9 642.5 L625.5 642.9 L626.1 643.2 L626.7 643.5 L627.3 643.8 L627.9 644.0 L628.2 644.1 L628.5 644.1 L629.1 644.1 L629.7 644.1 L630.3 644.1 L630.9 644.1 L631.5 644.1 L632.1 644.1 L632.7 644.1 L633.3 644.1 L633.9 644.1 L634.5 644.1 L635.1 644.1 L635.7 644.1 L636.3 644.1 L636.9 644.1 L637.1 644.1 L637.5 643.9 L638.1 643.5 L638.7 643.0 L639.3 642.4 L639.9 641.7 L640.5 641.0 L641.1 640.2 L641.7 639.5 L642.3 638.7 L642.9 637.9 L643.5 637.2 L644.1 636.6 L644.7 636.0 L645.3 635.6 L645.9 635.2 L646.0 635.2 L646.5 635.3 L647.1 635.4 L647.7 635.5 L648.3 635.7 L648.9 635.9 L649.5 636.1 L650.1 636.3 L650.7 636.5 L651.3 636.8 L651.9 637.0 L652.5 637.3 L653.1 637.5 L653.7 637.8 L653.7 637.8 L654.3 638.2 L654.9 638.7 L655.5 639.3 L656.1 639.9 L656.7 640.4 L657.3 641.0 L657.9 641.4 L658.0 641.5 L658.5 641.8 L659.1 642.1 L659.7 642.4 L660.3 642.7 L660.9 643.0 L661.5 643.2 L662.1 643.4 L662.6 643.5 L662.7 643.5 L663.3 643.2 L663.9 642.8 L664.5 642.4 L665.1 641.8 L665.7 641.3 L666.3 640.7 L666.9 640.2 L667.5 639.7 L668.1 639.3 L668.7 639.1 L668.9 639.0 L669.3 639.5 L669.9 640.5 L670.5 642.0 L671.1 643.5 L671.7 644.9 L672.3 646.1 L672.8 646.7 L672.9 646.6 L673.5 646.1 L674.1 645.2 L674.7 644.2 L675.3 643.1 L675.9 642.2 L676.5 641.7 L676.6 641.6 L677.1 642.0 L677.7 642.6 L678.3 643.5 L678.9 644.4 L679.5 645.2 L680.1 645.8 L680.4 646.0 L680.7 646.0 L681.3 646.0 L681.9 645.9 L682.5 645.9 L683.1 645.8 L683.7 645.8 L684.3 645.7 L684.9 645.7 L685.5 645.6 L686.1 645.5 L686.7 645.4 L687.0 645.4 L687.3 645.3 L687.9 645.1 L688.5 644.8 L689.1 644.4 L689.7 644.1 L690.3 643.7 L690.9 643.3 L691.5 642.9 L692.1 642.6 L692.7 642.2 L693.3 641.9 L693.9 641.7 L694.4 641.6 L694.5 641.6 L695.1 642.0 L695.7 642.4 L696.3 643.0 L696.9 643.6 L697.5 644.2 L698.1 644.9 L698.7 645.6 L699.3 646.3 L699.9 647.0 L700.5 647.6 L700.8 647.9 L701.1 648.1 L701.7 648.6 L702.3 649.1 L702.9 649.7 L703.5 650.2 L704.1 650.7 L704.7 651.1 L705.3 651.5 L705.9 651.9 L706.5 652.2 L707.1 652.4 L707.1 652.4 L707.7 651.9 L708.3 651.2 L708.9 650.2 L709.5 649.2 L710.1 648.1 L710.7 647.1 L711.3 646.2 L711.9 645.6 L712.2 645.4 L712.5 645.6 L713.1 646.2 L713.7 646.9 L714.3 647.7 L714.9 648.5 L715.0 648.6 L715.5 649.1 L716.1 649.8 L716.7 650.5 L717.3 651.2 L717.9 651.8 L718.5 652.4 L719.1 652.8 L719.5 653.0 L719.7 652.8 L720.3 652.0 L720.9 650.9 L721.5 649.6 L722.1 648.4 L722.7 647.4 L723.3 646.7 L723.3 646.7 L723.9 646.9 L724.5 647.2 L725.1 647.7 L725.7 648.1 L726.3 648.5 L726.9 648.9 L727.5 649.1 L727.7 649.2 L728.1 649.2 L728.7 649.2 L729.3 649.1 L729.9 649.1 L730.5 649.1 L731.1 649.0 L731.7 649.0 L732.3 648.9 L732.9 648.9 L733.5 648.8 L734.1 648.8 L734.7 648.8 L735.3 648.7 L735.9 648.7 L736.5 648.7 L737.1 648.6 L737.7 648.6 L737.9 648.6 L738.3 648.6 L738.9 648.7 L739.5 648.8 L740.1 648.9 L740.7 649.0 L741.3 649.1 L741.9 649.2 L742.5 649.3 L743.1 649.5 L743.7 649.6 L744.3 649.8 L744.9 649.9 L745.5 650.1 L746.1 650.3 L746.7 650.5 L746.8 650.5 L747.3 650.9 L747.9 651.7 L748.5 652.5 L749.1 653.4 L749.7 654.3 L750.3 655.2 L750.9 656.0 L751.5 656.5 L751.9 656.8 L752.1 656.7 L752.7 656.2 L753.3 655.4 L753.9 654.5 L754.5 653.6 L755.1 652.6 L755.7 651.8 L756.3 651.0 L756.9 650.6 L757.0 650.5 L757.5 650.5 L758.1 650.6 L758.7 650.7 L759.3 650.7 L759.9 650.8 L760.5 650.9 L761.1 651.0 L761.7 651.1 L762.3 651.2 L762.9 651.3 L763.5 651.4 L764.1 651.6 L764.7 651.7 L765.3 651.8 L765.9 651.9 L766.5 652.0 L767.1 652.1 L767.7 652.3 L768.3 652.4 L768.5 652.4 L768.9 652.5 L769.5 652.6 L770.1 652.7 L770.7 652.8 L771.3 653.0 L771.9 653.1 L772.5 653.2 L773.1 653.4 L773.7 653.5 L774.3 653.6 L774.9 653.8 L775.5 653.9 L776.1 654.0 L776.7 654.1 L777.3 654.2 L777.9 654.2 L778.5 654.3 L778.7 654.3 L779.1 654.1 L779.7 653.7 L780.3 653.1 L780.9 652.5 L781.5 651.8 L782.1 651.1 L782.7 650.5 L783.3 649.9 L783.9 649.4 L784.4 649.2 L784.5 649.3 L785.1 649.7 L785.7 650.4 L786.3 651.3 L786.9 652.2 L787.5 653.1 L788.1 653.8 L788.7 654.2 L788.8 654.3 L789.3 654.2 L789.9 654.1 L790.5 653.9 L791.1 653.7 L791.7 653.4 L792.3 653.2 L792.9 652.9 L793.5 652.7 L794.1 652.5 L794.7 652.2 L795.3 652.1 L795.9 651.9 L796.5 651.8 L796.5 651.8 L797.1 651.9 L797.7 651.9 L798.3 652.0 L798.9 652.1 L799.5 652.2 L800.1 652.4 L800.7 652.5 L801.3 652.6 L801.9 652.7 L802.5 652.8 L803.1 652.9 L803.7 653.0 L804.1 653.0 L804.3 653.0 L804.9 653.0 L805.5 653.0 L806.1 653.0 L806.7 653.0 L807.3 653.0 L807.9 653.0 L808.5 653.0 L809.1 653.0 L809.7 653.0 L810.3 653.0 L810.5 653.0 L810.9 651.4 L811.5 647.8 L811.8 646.7 L812.1 648.5 L812.7 654.4 L813.0 656.2 L813.3 656.2 L813.9 656.2 L814.5 656.1 L815.1 656.1 L815.7 656.1 L816.3 656.0 L816.9 656.0 L817.5 655.9 L818.1 655.9 L818.7 655.9 L819.3 655.8 L819.9 655.8 L820.5 655.7 L821.1 655.7 L821.7 655.7 L822.3 655.6 L822.9 655.6 L823.2 655.6 L823.5 655.7 L824.1 656.0 L824.7 656.4 L825.3 656.9 L825.9 657.4 L826.5 658.0 L827.1 658.6 L827.7 659.2 L828.3 659.7 L828.9 660.2 L829.5 660.6 L829.6 660.7 L830.1 660.9 L830.7 661.2 L831.3 661.4 L831.9 661.6 L832.5 661.9 L833.1 662.1 L833.7 662.3 L834.3 662.5 L834.9 662.7 L835.5 662.9 L836.1 663.0 L836.7 663.1 L837.2 663.2 L837.3 663.2 L837.9 662.7 L838.5 662.1 L839.1 661.4 L839.7 660.9 L840.0 660.7 L840.3 660.8 L840.9 660.9 L841.5 661.2 L842.1 661.4 L842.7 661.7 L843.3 662.0 L843.9 662.3 L844.5 662.5 L845.1 662.6 L845.1 662.6 L845.7 662.2 L846.3 661.6 L846.9 660.9 L847.5 660.0 L848.1 659.2 L848.7 658.3 L849.3 657.4 L849.9 656.6 L850.5 655.9 L850.8 655.6 L851.1 655.4 L851.7 655.1 L852.3 654.7 L852.9 654.4 L853.5 654.1 L854.1 653.8 L854.7 653.6 L855.3 653.3 L855.9 653.2 L856.5 653.0 L856.6 653.0 L857.1 653.1 L857.7 653.3 L858.3 653.5 L858.9 653.8 L859.5 654.1 L860.1 654.4 L860.7 654.7 L861.3 655.1 L861.9 655.4 L862.3 655.6 L862.5 655.7 L863.1 656.1 L863.7 656.6 L864.3 657.0 L864.9 657.4 L865.5 657.9 L866.1 658.4 L866.7 658.8 L867.3 659.3 L867.4 659.4 L867.9 659.8 L868.5 660.4 L869.1 661.1 L869.7 661.7 L870.3 662.3 L870.9 663.0 L871.5 663.5 L872.1 664.0 L872.7 664.3 L873.1 664.5 L873.3 664.4 L873.9 664.1 L874.5 663.7 L875.1 663.1 L875.7 662.6 L876.3 662.0 L876.9 661.5 L877.5 661.0 L878.1 660.7 L878.2 660.7 L878.7 660.8 L879.3 660.9 L879.9 661.0 L880.5 661.1 L881.1 661.3 L881.7 661.4 L882.3 661.6 L882.9 661.8 L883.3 661.9 L883.5 662.0 L884.1 662.3 L884.7 662.6 L885.3 663.0 L885.9 663.4 L886.5 663.7 L887.1 664.0 L887.7 664.3 L888.3 664.5 L888.4 664.5 L888.9 664.5 L889.5 664.5 L890.1 664.5 L890.7 664.5 L891.3 664.5 L891.9 664.5 L892.5 664.5 L893.1 664.5 L893.7 664.5 L894.3 664.5 L894.7 664.5 L894.9 664.4 L895.5 664.0 L896.1 663.4 L896.7 662.7 L897.3 661.9 L897.9 661.1 L898.5 660.4 L899.1 659.8 L899.7 659.4 L899.8 659.4 L900.3 659.6 L900.9 659.9 L901.5 660.2 L902.1 660.7 L902.7 661.1 L903.3 661.6 L903.9 662.2 L904.5 662.7 L905.1 663.2 L905.7 663.6 L906.3 664.0 L906.9 664.3 L907.5 664.5 L907.5 664.5 L908.1 664.2 L908.7 663.8 L909.3 663.3 L909.9 662.7 L910.5 662.2 L911.1 661.7 L911.7 661.4 L911.9 661.3 L912.3 661.5 L912.9 661.8 L913.5 662.3 L914.1 662.9 L914.7 663.4 L915.3 663.9 L915.9 664.3 L916.4 664.5 L916.5 664.5 L917.1 664.3 L917.7 663.9 L918.3 663.6 L918.9 663.2 L919.5 662.8 L920.1 662.6 L920.2 662.6 L920.7 662.7 L921.3 663.0 L921.9 663.3 L922.5 663.7 L923.1 664.1 L923.7 664.5 L924.3 665.0 L924.9 665.4 L925.5 665.8 L926.1 666.2 L926.7 666.6 L927.3 666.8 L927.9 667.0 L927.9 667.0 L928.5 666.8 L929.1 666.4 L929.7 666.0 L930.3 665.5 L930.9 664.9 L931.5 664.3 L932.1 663.8 L932.7 663.2 L933.3 662.7 L933.9 662.2 L934.5 661.8 L935.1 661.4 L935.5 661.3 L935.7 661.4 L936.3 661.6 L936.9 662.0 L937.5 662.5 L938.1 662.9 L938.7 663.4 L939.3 663.9 L939.9 664.2 L940.5 664.5 L940.6 664.5 L941.1 664.3 L941.7 663.9 L942.3 663.4 L942.9 662.8 L943.5 662.3 L944.1 661.7 L944.7 661.2 L945.3 660.9 L945.7 660.7 L945.9 660.8 L946.5 661.2 L947.1 661.8 L947.7 662.4 L948.3 663.2 L948.9 663.9 L949.5 664.6 L950.1 665.3 L950.7 665.7 L950.8 665.8 L951.3 665.9 L951.9 666.1 L952.5 666.2 L953.1 666.4 L953.7 666.5 L954.3 666.6 L954.9 666.7 L955.5 666.8 L956.1 666.9 L956.7 667.0 L957.1 667.0 L957.3 667.0 L957.9 666.9 L958.5 666.7 L959.1 666.6 L959.7 666.4 L960.3 666.2 L960.9 666.0 L961.5 665.9 L962.1 665.8 L962.2 665.8 L962.7 665.8 L963.3 665.8 L963.9 665.8 L964.5 665.8 L965.1 665.8 L965.7 665.8 L966.3 665.8 L966.9 665.8 L967.5 665.8 L968.1 665.8 L968.7 665.8 L969.3 665.8 L969.9 665.8 L970.1 665.8 L970.5 665.5 L971.1 664.9 L971.7 664.0 L972.3 663.1 L972.9 662.2 L973.5 661.6 L973.9 661.3 L974.1 661.3 L974.7 661.4 L975.3 661.6 L975.9 661.8 L976.5 662.0 L977.1 662.3 L977.7 662.5 L978.3 662.8 L978.9 663.0 L979.5 663.2 L980.1 663.5 L980.7 663.7 L981.3 663.8 L981.6 663.9 L981.9 663.9 L982.5 664.0 L983.1 664.0 L983.7 664.1 L984.3 664.1 L984.9 664.2 L985.5 664.2 L986.1 664.2 L986.7 664.3 L987.3 664.3 L987.9 664.4 L988.5 664.4 L989.1 664.5 L989.2 664.5 L989.7 664.6 L990.3 664.8 L990.9 665.1 L991.5 665.3 L992.1 665.6 L992.7 665.9 L993.3 666.2 L993.9 666.5 L994.5 666.8 L995.1 667.1 L995.7 667.3 L996.3 667.5 L996.9 667.7 L996.9 667.7 L997.5 667.8 L998.1 667.9 L998.7 667.9 L999.3 668.0 L999.9 668.1 L1000.5 668.1 L1001.1 668.2 L1001.7 668.2 L1002.3 668.3 L1002.9 668.3 L1003.2 668.3" fill="none" stroke="#1f77b4" stroke-width="4.0" stroke-linejoin="round" stroke-linecap="butt" clip-path="url(#cb)"/>
<path d="M81.3 669.0 L81.9 669.4 L82.5 669.7 L82.5 669.7 L83.1 669.9 L83.7 670.1 L84.3 670.3 L84.9 670.5 L85.5 670.7 L86.1 670.9 L86.7 671.0 L87.3 671.2 L87.9 671.3 L88.2 671.3 L88.5 671.3 L89.1 671.2 L89.7 671.1 L90.3 671.0 L90.9 670.9 L91.5 670.8 L92.1 670.6 L92.7 670.5 L93.3 670.3 L93.9 670.1 L93.9 670.1 L94.5 669.3 L95.1 668.2 L95.7 666.9 L96.3 665.6 L96.9 664.3 L97.5 663.1 L98.1 662.3 L98.4 662.0 L98.7 662.2 L99.3 662.8 L99.9 663.6 L100.5 664.3 L100.9 664.6 L101.1 664.4 L101.7 663.3 L102.3 661.8 L102.9 660.0 L103.5 658.1 L104.1 656.4 L104.7 654.9 L105.3 653.9 L105.4 653.8 L105.9 654.5 L106.5 655.9 L107.1 657.6 L107.7 659.5 L108.3 661.1 L108.9 662.3 L109.2 662.7 L109.5 662.3 L110.1 661.0 L110.7 659.3 L111.3 657.3 L111.9 655.2 L112.5 653.1 L113.1 651.2 L113.7 649.7 L114.3 648.7 L114.3 648.7 L114.9 649.2 L115.5 649.9 L116.1 650.6 L116.7 651.2 L116.8 651.2 L117.3 649.9 L117.9 647.3 L118.5 645.2 L118.7 644.8 L119.1 645.9 L119.7 648.8 L120.3 652.3 L120.9 655.2 L121.3 656.3 L121.5 655.9 L122.1 653.8 L122.7 650.8 L123.3 647.5 L123.9 644.4 L124.5 642.0 L124.9 641.0 L125.1 641.4 L125.7 643.6 L126.3 646.7 L126.9 650.0 L127.5 653.1 L128.1 655.3 L128.3 655.7 L128.7 654.5 L129.3 651.6 L129.9 648.8 L130.2 648.0 L130.5 648.1 L131.1 648.2 L131.7 648.5 L132.3 648.7 L132.9 649.0 L133.5 649.4 L134.1 649.8 L134.7 650.2 L135.3 650.6 L135.3 650.6 L135.9 651.6 L136.5 653.0 L137.1 654.4 L137.7 655.6 L137.8 655.7 L138.3 656.1 L138.9 656.6 L139.5 657.1 L140.1 657.5 L140.7 657.8 L141.3 658.1 L141.7 658.2 L141.9 658.1 L142.5 657.5 L143.1 656.7 L143.7 655.8 L144.3 654.8 L144.9 653.7 L145.5 652.5 L145.5 652.5 L146.1 650.1 L146.7 647.0 L147.3 643.6 L147.9 640.0 L148.5 636.5 L149.1 633.4 L149.7 630.9 L150.2 629.6 L150.3 629.9 L150.9 632.4 L151.5 636.2 L152.1 640.7 L152.7 645.4 L153.3 649.8 L153.9 653.2 L154.4 655.0 L154.5 654.8 L155.1 652.8 L155.7 649.8 L156.3 646.4 L156.9 643.0 L157.5 640.0 L158.1 638.0 L158.2 637.8 L158.7 638.8 L159.3 640.9 L159.9 643.3 L160.5 645.7 L161.1 647.5 L161.4 648.0 L161.7 647.5 L162.3 646.2 L162.9 644.3 L163.5 642.2 L164.1 639.9 L164.7 637.7 L165.2 635.9 L165.3 635.5 L165.9 633.2 L166.5 630.6 L167.1 627.9 L167.7 625.5 L168.3 623.5 L168.9 622.1 L169.0 621.9 L169.5 623.1 L170.1 625.5 L170.7 628.5 L171.3 631.7 L171.9 635.0 L172.5 637.9 L173.1 640.1 L173.5 641.0 L173.7 640.6 L174.3 638.9 L174.9 636.5 L175.5 633.6 L176.1 630.5 L176.7 627.3 L177.3 624.2 L177.9 621.3 L177.9 621.3 L178.5 618.4 L179.1 615.3 L179.7 612.2 L180.3 609.2 L180.9 606.7 L181.5 604.7 L181.8 604.1 L182.1 605.0 L182.7 607.7 L183.3 611.4 L183.9 615.6 L184.5 620.2 L185.1 624.7 L185.7 628.7 L186.3 631.9 L186.9 634.0 L186.9 634.0 L187.5 631.5 L188.1 627.5 L188.7 622.6 L189.3 617.3 L189.9 612.2 L190.5 607.8 L191.1 604.8 L191.3 604.1 L191.7 604.3 L192.3 605.0 L192.9 605.7 L193.5 606.4 L193.9 606.6 L194.1 606.4 L194.7 605.2 L195.3 603.7 L195.9 602.3 L196.4 601.6 L196.5 601.8 L197.1 604.1 L197.7 607.5 L198.3 611.0 L198.9 613.9 L199.0 614.3 L199.5 615.3 L200.1 616.5 L200.7 617.6 L201.3 618.5 L201.9 619.3 L202.5 619.8 L202.5 619.8 L203.1 618.3 L203.7 616.0 L204.3 613.2 L204.9 610.2 L205.5 607.3 L205.7 606.4 L206.1 604.2 L206.7 600.7 L207.3 597.7 L207.6 596.8 L207.9 597.0 L208.5 597.6 L209.1 598.4 L209.7 599.0 L210.2 599.4 L210.3 599.3 L210.9 597.7 L211.5 595.4 L212.1 593.2 L212.7 591.8 L212.7 591.8 L213.3 594.0 L213.9 597.3 L214.5 601.5 L215.1 606.0 L215.7 610.4 L216.3 614.2 L216.9 617.0 L217.2 617.9 L217.5 616.9 L218.1 613.9 L218.7 609.9 L219.3 605.4 L219.9 600.8 L220.5 596.6 L221.0 593.7 L221.1 593.3 L221.7 591.2 L222.3 589.1 L222.9 587.1 L223.5 585.4 L224.1 583.9 L224.7 582.9 L224.8 582.8 L225.3 585.2 L225.9 589.8 L226.5 595.5 L227.1 601.4 L227.7 606.8 L228.3 610.9 L228.6 612.1 L228.9 610.9 L229.5 607.4 L230.1 602.7 L230.7 597.2 L231.3 591.3 L231.9 585.4 L232.5 580.0 L233.1 575.4 L233.7 572.0 L233.7 572.0 L234.3 571.2 L234.9 570.5 L235.5 569.9 L236.1 569.3 L236.7 568.5 L236.9 568.2 L237.3 566.2 L237.9 561.9 L238.5 557.1 L239.1 553.2 L239.5 551.6 L239.7 552.4 L240.3 556.7 L240.9 562.5 L241.5 568.8 L242.1 574.3 L242.7 577.7 L242.7 577.7 L243.3 575.4 L243.9 571.9 L244.5 567.5 L245.1 562.8 L245.7 558.2 L246.3 554.3 L246.9 551.6 L247.1 551.0 L247.5 552.5 L248.1 556.2 L248.7 560.5 L249.3 564.2 L249.7 565.7 L249.9 565.0 L250.5 561.7 L251.1 557.0 L251.7 552.1 L252.3 548.0 L252.8 545.9 L252.9 546.1 L253.5 547.8 L254.1 550.3 L254.7 553.0 L255.3 555.5 L255.9 557.2 L256.0 557.4 L256.5 556.5 L257.1 554.8 L257.7 552.9 L258.3 551.4 L258.6 551.0 L258.9 551.8 L259.5 554.5 L260.1 558.0 L260.7 562.1 L261.3 566.2 L261.9 570.0 L262.5 573.0 L263.0 574.6 L263.1 574.4 L263.7 572.5 L264.3 569.7 L264.9 566.7 L265.5 563.9 L266.1 562.0 L266.2 561.8 L266.7 564.5 L267.3 568.7 L267.5 569.5 L267.9 566.2 L268.5 557.9 L269.1 548.3 L269.7 540.5 L270.0 538.3 L270.3 539.5 L270.9 543.0 L271.5 547.9 L272.1 553.5 L272.7 559.5 L273.3 565.4 L273.9 570.7 L274.5 574.9 L275.1 577.7 L275.1 577.7 L275.7 576.5 L276.3 574.8 L276.9 572.7 L277.5 570.2 L278.1 567.5 L278.7 564.6 L279.3 561.7 L279.9 558.9 L280.5 556.2 L281.1 553.8 L281.7 551.7 L282.3 550.1 L282.8 549.1 L282.9 549.3 L283.5 551.1 L284.1 553.8 L284.7 557.0 L285.3 560.6 L285.9 564.2 L286.5 567.5 L287.1 570.3 L287.7 572.3 L287.9 572.7 L288.3 569.0 L288.9 559.8 L289.5 548.1 L290.1 536.1 L290.7 525.8 L291.3 519.4 L291.3 519.4 L291.9 522.1 L292.5 526.4 L293.1 531.5 L293.7 536.5 L294.3 540.7 L294.5 541.7 L294.9 542.8 L295.5 544.3 L296.1 545.6 L296.7 546.5 L296.8 546.6 L297.3 543.7 L297.9 538.7 L298.3 536.6 L298.5 536.7 L299.1 537.1 L299.7 537.6 L300.3 538.0 L300.4 538.0 L300.9 536.1 L301.5 532.2 L302.1 528.3 L302.7 525.8 L302.7 525.8 L303.3 526.1 L303.9 526.7 L304.5 527.2 L305.1 527.6 L305.3 527.7 L305.7 524.5 L306.3 516.5 L306.9 508.9 L307.2 506.7 L307.5 509.1 L308.1 516.9 L308.7 527.3 L309.3 538.7 L309.9 549.1 L310.5 556.9 L310.8 559.3 L311.1 558.5 L311.7 556.1 L312.3 552.7 L312.9 549.1 L313.5 545.6 L314.1 542.8 L314.6 541.3 L314.7 541.4 L315.3 542.5 L315.9 544.1 L316.5 546.1 L317.1 548.2 L317.7 550.4 L318.3 552.4 L318.9 554.0 L319.5 555.2 L319.7 555.5 L320.1 554.2 L320.7 550.9 L321.3 546.9 L321.9 542.7 L322.5 539.1 L322.5 539.1 L323.1 536.6 L323.7 534.4 L324.3 532.3 L324.9 530.0 L325.5 527.4 L325.7 526.4 L326.1 522.6 L326.7 515.1 L327.3 506.8 L327.9 499.1 L328.5 493.2 L328.8 491.4 L329.1 492.9 L329.7 497.3 L330.3 503.2 L330.9 510.0 L331.5 517.4 L332.1 524.7 L332.7 531.5 L332.7 531.5 L333.3 539.2 L333.9 547.1 L334.5 552.2 L334.5 552.2 L335.1 545.5 L335.7 535.0 L336.3 523.6 L336.9 514.5 L337.1 512.5 L337.5 511.4 L338.1 509.9 L338.7 508.6 L339.3 507.5 L339.9 506.6 L340.5 505.8 L340.9 505.5 L341.1 506.9 L341.7 513.8 L342.3 523.5 L342.9 534.5 L343.5 545.2 L344.1 554.2 L344.7 559.8 L344.7 559.8 L345.3 554.2 L345.9 545.3 L346.5 534.5 L347.1 523.4 L347.7 513.3 L348.3 505.9 L348.6 503.6 L348.9 505.1 L349.5 510.2 L350.1 516.4 L350.7 521.9 L351.1 524.0 L351.3 523.5 L351.9 520.8 L352.5 517.1 L353.1 513.7 L353.7 511.5 L353.7 511.5 L354.3 515.2 L354.9 521.0 L355.5 528.1 L356.1 535.3 L356.7 541.7 L357.3 546.2 L357.5 547.1 L357.9 546.3 L358.5 544.4 L359.1 541.9 L359.7 539.3 L360.3 536.8 L360.5 536.0 L360.9 534.5 L361.5 532.0 L362.1 529.5 L362.7 527.6 L363.2 526.5 L363.3 526.8 L363.9 530.6 L364.5 536.0 L365.1 541.3 L365.7 544.6 L365.7 544.6 L366.3 541.0 L366.9 535.3 L367.5 528.4 L368.1 521.3 L368.7 514.9 L369.3 510.2 L369.6 508.7 L369.9 510.9 L370.5 518.1 L371.1 527.7 L371.7 538.1 L372.3 547.4 L372.9 554.1 L373.1 555.4 L373.5 553.7 L374.1 549.5 L374.7 544.4 L375.3 539.8 L375.9 536.9 L375.9 536.9 L376.5 537.6 L377.1 538.6 L377.7 539.7 L378.3 540.5 L378.5 540.7 L378.9 539.4 L379.5 536.3 L380.1 532.4 L380.7 527.8 L381.0 525.5 L381.3 521.2 L381.9 509.7 L382.5 497.0 L383.1 485.6 L383.7 478.4 L383.7 478.4 L384.3 482.0 L384.9 487.5 L385.5 494.3 L386.1 502.1 L386.7 510.2 L387.3 518.4 L387.9 526.0 L388.5 532.6 L389.1 537.8 L389.6 540.7 L389.7 539.9 L390.3 532.9 L390.9 522.3 L391.5 509.7 L392.1 496.4 L392.7 483.5 L393.3 472.6 L393.9 464.8 L394.1 463.2 L394.5 464.5 L395.1 467.7 L395.7 471.8 L396.3 476.4 L396.9 481.1 L397.5 485.3 L398.1 488.6 L398.6 490.4 L398.7 489.4 L399.3 477.8 L399.9 462.6 L400.5 452.4 L400.5 452.4 L401.1 453.0 L401.7 454.0 L402.3 454.9 L402.5 455.0 L402.9 452.6 L403.5 446.6 L404.1 441.3 L404.3 440.3 L404.7 442.9 L405.3 449.1 L405.9 457.0 L406.5 465.6 L407.1 474.1 L407.5 479.1 L407.7 481.4 L408.3 488.7 L408.9 496.4 L409.5 504.0 L410.1 510.9 L410.7 516.6 L411.3 520.5 L411.4 521.0 L411.9 519.1 L412.5 515.8 L413.1 511.5 L413.7 506.6 L414.3 501.2 L414.9 495.5 L415.5 489.9 L416.1 484.6 L416.7 479.7 L417.3 475.6 L417.9 472.5 L418.3 471.0 L418.5 471.9 L419.1 475.9 L419.7 481.6 L420.3 488.3 L420.9 495.3 L421.5 501.8 L422.1 507.3 L422.7 511.0 L422.8 511.4 L423.3 509.4 L423.9 505.7 L424.5 501.1 L425.1 495.9 L425.7 490.9 L426.3 486.5 L426.9 483.2 L427.2 482.2 L427.5 483.0 L428.1 485.9 L428.7 489.4 L429.3 492.6 L429.8 494.2 L429.9 494.1 L430.5 493.3 L431.1 492.3 L431.7 491.6 L431.7 491.6 L432.3 495.2 L432.9 500.9 L433.5 507.8 L434.1 515.5 L434.7 523.2 L435.3 530.1 L435.9 535.8 L436.5 539.4 L436.5 539.4 L437.1 533.8 L437.7 524.9 L438.3 515.0 L438.9 506.4 L439.4 502.1 L439.5 502.6 L440.1 507.3 L440.7 514.1 L441.3 521.2 L441.8 526.0 L441.9 526.6 L442.5 530.1 L443.1 533.5 L443.7 536.7 L444.3 539.6 L444.9 542.0 L445.5 543.8 L445.8 544.5 L446.1 543.7 L446.7 541.3 L447.3 538.1 L447.9 534.5 L448.5 530.8 L449.0 528.0 L449.1 527.4 L449.7 523.7 L450.3 519.6 L450.9 515.6 L451.5 512.0 L452.1 509.4 L452.4 508.5 L452.7 509.5 L453.3 512.6 L453.9 516.7 L454.5 521.6 L455.1 526.6 L455.7 531.3 L456.3 535.3 L456.9 538.2 L457.1 538.8 L457.5 536.0 L458.1 528.9 L458.7 520.6 L459.3 513.5 L459.7 510.7 L459.9 511.7 L460.5 517.3 L461.1 524.7 L461.7 531.5 L462.2 534.9 L462.3 534.7 L462.9 531.9 L463.5 528.4 L464.1 526.0 L464.1 526.0 L464.7 526.0 L465.3 526.0 L465.9 526.0 L466.5 526.0 L467.1 526.0 L467.7 526.0 L468.3 526.0 L468.7 526.0 L468.9 527.2 L469.5 533.7 L470.1 542.1 L470.7 549.7 L470.7 549.7 L471.3 555.4 L471.9 560.8 L472.5 564.5 L472.6 564.9 L473.1 562.8 L473.7 558.9 L474.3 555.4 L474.5 554.7 L474.9 554.5 L475.5 554.2 L476.1 553.9 L476.7 553.7 L477.3 553.6 L477.7 553.5 L477.9 554.2 L478.5 557.4 L479.1 562.0 L479.7 567.0 L480.3 571.6 L480.9 575.1 L480.9 575.1 L481.5 576.5 L482.1 577.7 L482.7 578.9 L483.3 579.9 L483.9 580.7 L484.5 581.4 L484.7 581.5 L485.1 580.9 L485.7 579.6 L486.3 577.9 L486.9 575.9 L487.5 573.9 L487.9 572.6 L488.1 571.8 L488.7 568.9 L489.3 565.6 L489.9 562.4 L490.5 559.6 L491.1 557.3 L491.1 557.3 L491.7 556.4 L492.3 555.5 L492.9 554.7 L493.5 553.9 L494.1 553.3 L494.7 552.8 L495.3 552.4 L495.6 552.2 L495.9 553.9 L496.5 559.6 L497.1 567.1 L497.7 574.8 L498.3 581.2 L498.7 584.0 L498.9 584.3 L499.5 585.0 L500.0 585.3 L500.1 584.9 L500.7 580.3 L501.3 573.9 L501.9 568.4 L502.2 566.8 L502.5 567.8 L503.1 571.1 L503.7 575.5 L504.3 579.7 L504.9 582.8 L505.1 583.4 L505.5 583.0 L506.1 582.3 L506.7 581.3 L507.3 580.2 L507.9 578.9 L508.5 577.4 L508.9 576.4 L509.1 575.4 L509.7 571.7 L510.3 567.4 L510.8 563.7 L510.9 562.9 L511.5 557.5 L512.1 551.6 L512.7 546.2 L513.3 542.0 L513.6 540.7 L513.9 543.1 L514.5 550.8 L515.1 561.1 L515.7 572.6 L515.9 576.4 L516.3 589.1 L516.9 609.9 L517.2 616.1 L517.5 614.9 L518.1 611.1 L518.7 605.9 L519.3 600.2 L519.9 594.5 L520.5 589.7 L521.0 586.8 L521.1 586.6 L521.7 585.6 L522.3 584.8 L522.9 584.0 L522.9 584.0 L523.5 583.0 L524.1 581.8 L524.7 580.7 L525.3 579.6 L525.9 578.6 L526.5 577.9 L526.8 577.7 L527.1 578.1 L527.7 579.5 L528.3 580.9 L528.7 581.5 L528.9 581.4 L529.5 581.0 L530.1 580.4 L530.7 579.9 L531.2 579.6 L531.3 580.1 L531.9 584.6 L532.5 591.3 L533.1 599.1 L533.7 607.0 L534.3 613.7 L534.9 618.2 L535.0 618.7 L535.5 616.9 L536.1 613.7 L536.7 609.6 L537.3 605.1 L537.9 600.8 L538.5 597.2 L538.8 595.7 L539.1 594.9 L539.7 593.2 L540.3 591.7 L540.9 590.3 L541.5 589.2 L542.1 588.4 L542.2 588.3 L542.7 588.9 L543.3 589.9 L543.9 591.2 L544.5 592.6 L545.1 594.1 L545.7 595.5 L546.3 596.7 L546.5 597.0 L546.9 597.4 L547.5 598.0 L548.1 598.5 L548.7 599.2 L549.0 599.6 L549.3 601.5 L549.9 607.1 L550.5 614.1 L551.1 621.2 L551.7 627.1 L552.2 630.1 L552.3 629.9 L552.9 627.5 L553.5 624.1 L554.1 619.9 L554.7 615.5 L555.3 611.3 L555.9 607.7 L556.5 605.1 L556.7 604.6 L557.1 605.8 L557.7 608.6 L558.3 612.2 L558.9 616.2 L559.5 620.4 L560.1 624.2 L560.7 627.3 L561.1 628.8 L561.3 629.0 L561.9 629.7 L562.5 630.3 L563.1 630.9 L563.7 631.3 L564.3 631.7 L564.9 632.0 L565.0 632.0 L565.5 631.0 L566.1 629.2 L566.7 626.8 L567.3 624.4 L567.9 621.9 L568.1 621.2 L568.5 619.6 L569.1 616.9 L569.7 614.2 L570.3 611.9 L570.9 610.4 L570.9 610.4 L571.5 611.9 L572.1 614.0 L572.7 616.7 L573.3 619.7 L573.9 622.8 L574.5 625.9 L575.1 628.8 L575.1 628.8 L575.7 631.9 L576.3 635.2 L576.9 638.2 L577.5 640.4 L577.7 640.9 L578.1 639.9 L578.7 637.4 L579.3 634.5 L579.9 632.1 L580.2 631.4 L580.5 632.0 L581.1 634.1 L581.7 636.7 L582.3 639.1 L582.8 640.3 L582.9 640.1 L583.5 637.7 L584.1 634.3 L584.7 630.4 L585.3 627.0 L585.9 624.6 L586.0 624.4 L586.5 625.8 L587.1 628.4 L587.7 631.6 L588.3 634.7 L588.9 637.2 L589.1 637.8 L589.5 638.3 L590.1 639.0 L590.7 639.6 L591.3 640.2 L591.9 640.8 L592.5 641.3 L593.1 641.8 L593.7 642.1 L594.3 642.5 L594.9 642.7 L595.1 642.8 L595.5 642.7 L596.1 642.3 L596.7 641.9 L597.3 641.5 L597.9 640.9 L598.5 640.4 L599.1 639.8 L599.7 639.3 L600.3 638.8 L600.9 638.4 L601.5 638.0 L602.1 637.8 L602.1 637.8 L602.7 639.3 L603.3 641.7 L603.9 644.4 L604.5 647.0 L605.1 648.8 L605.3 649.2 L605.7 648.5 L606.3 647.1 L606.9 645.3 L607.5 643.1 L608.1 640.7 L608.7 638.2 L609.1 636.5 L609.3 635.1 L609.9 629.8 L610.5 623.6 L611.1 617.1 L611.7 611.2 L612.3 606.6 L612.7 604.6 L612.9 604.9 L613.5 606.6 L614.1 609.0 L614.7 611.7 L615.3 614.1 L615.9 615.8 L616.1 616.1 L616.5 615.8 L617.1 615.0 L617.7 614.1 L618.3 613.0 L618.9 612.1 L619.5 611.3 L619.9 611.0 L620.1 611.5 L620.7 614.0 L621.3 617.4 L621.9 621.2 L622.5 624.8 L623.1 627.6 L623.1 627.6 L623.7 628.8 L624.3 629.8 L624.9 630.7 L625.5 631.6 L626.1 632.5 L626.7 633.5 L626.9 633.9 L627.3 635.0 L627.9 637.0 L628.5 639.2 L629.1 641.4 L629.7 643.6 L630.3 645.5 L630.9 647.1 L631.4 647.9 L631.5 647.8 L632.1 646.3 L632.7 644.1 L633.3 641.6 L633.9 639.0 L634.5 636.8 L635.1 635.3 L635.2 635.2 L635.7 636.1 L636.3 637.9 L636.9 639.9 L637.5 641.3 L637.7 641.6 L638.1 641.0 L638.7 639.7 L639.3 638.1 L639.9 636.2 L640.5 634.1 L641.1 631.9 L641.7 629.5 L642.3 627.2 L642.9 624.8 L643.5 622.5 L643.5 622.5 L644.1 619.6 L644.7 616.2 L645.3 612.7 L645.9 609.2 L646.5 606.0 L647.1 603.2 L647.7 601.3 L647.9 600.8 L648.3 602.9 L648.9 608.1 L649.5 614.4 L650.1 620.0 L650.5 622.5 L650.7 622.8 L651.3 623.7 L651.9 624.4 L652.5 625.0 L653.1 625.6 L653.7 626.1 L654.3 626.8 L654.9 627.6 L654.9 627.6 L655.5 629.4 L656.1 631.6 L656.7 634.2 L657.3 636.8 L657.9 639.3 L658.5 641.4 L659.1 643.0 L659.4 643.5 L659.7 642.9 L660.3 641.2 L660.9 638.8 L661.5 636.2 L662.0 634.0 L662.1 633.5 L662.7 629.7 L663.3 625.4 L663.9 621.3 L664.5 618.1 L664.9 616.7 L665.1 617.0 L665.7 618.3 L666.3 620.1 L666.9 622.2 L667.5 624.2 L668.1 625.9 L668.3 626.3 L668.7 626.8 L669.3 627.4 L669.9 627.9 L670.5 628.4 L671.1 628.9 L671.7 629.6 L672.1 630.1 L672.3 630.7 L672.9 633.2 L673.5 636.3 L674.1 639.6 L674.7 642.7 L675.3 645.4 L675.3 645.4 L675.9 647.2 L676.5 649.1 L677.1 650.8 L677.7 652.4 L678.3 653.7 L678.9 654.7 L679.1 654.9 L679.5 654.8 L680.1 654.5 L680.7 654.2 L681.3 653.8 L681.9 653.4 L682.5 652.9 L683.1 652.5 L683.7 652.1 L684.2 651.8 L684.3 651.8 L684.9 651.5 L685.5 651.3 L686.1 651.1 L686.7 650.9 L687.3 650.6 L687.4 650.5 L687.9 649.1 L688.5 646.6 L689.1 643.8 L689.7 641.1 L689.9 640.3 L690.3 638.9 L690.9 637.0 L691.5 635.1 L692.1 633.0 L692.5 631.4 L692.7 630.1 L693.3 625.3 L693.9 619.8 L694.5 614.2 L695.1 609.6 L695.7 606.6 L695.7 606.6 L696.3 611.1 L696.9 618.2 L697.5 625.6 L698.1 630.9 L698.2 631.4 L698.7 631.7 L699.3 632.0 L699.9 632.2 L700.5 632.5 L700.8 632.7 L701.1 634.4 L701.7 639.8 L702.3 645.5 L702.7 647.9 L702.9 648.0 L703.5 648.4 L704.1 648.7 L704.7 648.9 L705.3 649.1 L705.9 649.2 L705.9 649.2 L706.5 648.5 L707.1 647.5 L707.7 646.2 L708.3 644.8 L708.9 643.4 L709.5 642.0 L710.1 640.8 L710.7 640.0 L711.0 639.7 L711.3 639.7 L711.9 639.8 L712.5 639.9 L713.1 640.1 L713.7 640.2 L714.3 640.4 L714.9 640.5 L715.5 640.7 L716.0 640.9 L716.1 641.0 L716.7 641.5 L717.3 642.3 L717.9 643.1 L718.5 643.9 L719.1 644.6 L719.7 645.2 L720.1 645.4 L720.3 645.2 L720.9 643.9 L721.5 642.2 L722.1 640.3 L722.7 638.4 L723.3 636.8 L723.9 635.8 L723.9 635.8 L724.5 636.6 L725.1 637.8 L725.7 639.2 L726.3 640.8 L726.9 642.3 L727.1 642.8 L727.5 643.9 L728.1 645.9 L728.7 647.9 L729.3 649.9 L729.9 651.7 L730.5 653.1 L730.9 653.7 L731.1 653.3 L731.7 651.3 L732.3 648.6 L732.9 645.4 L733.5 642.1 L734.1 639.0 L734.1 639.0 L734.7 635.4 L735.3 631.7 L735.9 629.0 L736.0 628.8 L736.5 629.8 L737.1 631.9 L737.7 634.2 L738.3 636.0 L738.6 636.5 L738.9 636.0 L739.5 634.4 L740.1 632.5 L740.7 630.8 L741.1 630.1 L741.3 630.5 L741.9 632.6 L742.5 635.4 L743.1 638.5 L743.7 641.1 L744.3 642.8 L744.3 642.8 L744.9 642.4 L745.5 641.8 L746.1 641.1 L746.7 640.3 L747.3 639.6 L747.9 639.0 L748.5 638.5 L748.7 638.4 L749.1 639.0 L749.7 640.6 L750.3 642.5 L750.9 644.5 L751.5 646.1 L751.9 646.7 L752.1 646.6 L752.7 645.9 L753.3 645.0 L753.9 644.0 L754.5 642.9 L755.1 641.8 L755.7 640.9 L755.7 640.9 L756.3 640.1 L756.9 639.3 L757.5 638.5 L758.1 637.8 L758.7 637.1 L759.3 636.7 L759.6 636.5 L759.9 637.1 L760.5 639.0 L761.1 641.6 L761.7 644.6 L762.3 647.6 L762.9 650.4 L763.5 652.5 L764.0 653.7 L764.1 653.5 L764.7 651.9 L765.3 649.6 L765.9 646.9 L766.5 644.6 L767.1 643.0 L767.2 642.8 L767.7 643.2 L768.3 643.8 L768.9 644.6 L769.5 645.2 L769.8 645.4 L770.1 645.0 L770.7 643.6 L771.3 641.8 L771.9 640.3 L772.3 639.7 L772.5 640.2 L773.1 642.5 L773.7 645.8 L774.3 649.5 L774.9 653.2 L775.5 656.2 L776.1 658.1 L776.1 658.1 L776.7 656.3 L777.3 653.4 L777.9 649.9 L778.5 646.2 L779.1 642.7 L779.7 639.8 L779.9 639.0 L780.3 638.1 L780.9 636.7 L781.5 635.4 L782.1 634.3 L782.7 633.2 L783.3 632.5 L783.8 632.0 L783.9 632.1 L784.5 632.6 L785.1 633.4 L785.7 634.4 L786.3 635.4 L786.9 636.5 L787.5 637.6 L787.6 637.8 L788.1 638.9 L788.7 640.5 L789.3 642.2 L789.9 643.9 L790.5 645.3 L791.1 646.3 L791.4 646.7 L791.7 646.4 L792.3 645.5 L792.9 644.3 L793.5 643.3 L793.9 642.8 L794.1 642.8 L794.7 642.6 L795.3 642.5 L795.9 642.4 L796.5 642.4 L797.1 642.3 L797.7 642.2 L798.3 642.2 L798.4 642.2 L798.9 643.5 L799.5 646.0 L800.1 649.2 L800.7 652.7 L801.3 656.2 L801.9 659.2 L802.5 661.6 L802.9 662.6 L803.1 662.4 L803.7 661.5 L804.3 660.3 L804.9 658.9 L805.5 657.5 L806.1 656.3 L806.7 655.6 L806.7 655.6 L807.3 656.2 L807.9 657.2 L808.5 658.3 L809.1 659.3 L809.2 659.4 L809.7 659.8 L810.3 660.4 L810.9 660.9 L811.5 661.4 L812.1 661.8 L812.7 662.2 L813.3 662.5 L813.7 662.6 L813.9 662.3 L814.5 660.9 L815.1 659.0 L815.7 656.9 L816.3 655.0 L816.9 653.7 L816.9 653.7 L817.5 653.4 L818.1 653.2 L818.7 653.0 L819.3 652.8 L819.9 652.5 L820.0 652.4 L820.5 649.7 L821.1 644.8 L821.7 639.4 L822.3 635.1 L822.6 633.9 L822.9 634.4 L823.5 636.1 L824.1 638.3 L824.7 640.9 L825.3 643.4 L825.8 645.4 L825.9 645.8 L826.5 648.3 L827.1 650.9 L827.7 653.4 L828.3 655.8 L828.9 657.8 L829.0 658.1 L829.5 659.0 L830.1 660.0 L830.7 660.9 L831.3 661.8 L831.9 662.5 L832.5 663.0 L832.8 663.2 L833.1 662.9 L833.7 662.0 L834.3 660.9 L834.9 659.6 L835.5 658.3 L836.1 657.3 L836.6 656.8 L836.7 656.8 L837.3 657.1 L837.9 657.5 L838.5 657.9 L839.1 658.1 L839.1 658.1 L839.7 657.4 L840.3 656.3 L840.9 655.0 L841.5 653.6 L842.1 652.2 L842.7 651.0 L843.3 650.1 L843.6 649.8 L843.9 649.8 L844.5 649.8 L845.1 649.8 L845.1 649.8 L845.7 651.3 L846.3 653.7 L846.9 656.6 L847.5 659.6 L848.1 662.3 L848.7 664.1 L848.9 664.5 L849.3 663.9 L849.9 662.4 L850.5 660.4 L851.1 658.4 L851.7 656.4 L852.3 654.9 L852.7 654.3 L852.9 654.5 L853.5 655.7 L854.1 657.3 L854.7 659.2 L855.3 661.2 L855.9 663.1 L856.5 664.6 L857.1 665.7 L857.2 665.8 L857.7 665.1 L858.3 663.8 L858.9 662.2 L859.5 660.4 L860.1 658.6 L860.7 657.1 L861.3 656.0 L861.6 655.6 L861.9 655.8 L862.5 656.4 L863.1 657.1 L863.7 658.0 L864.3 659.0 L864.9 659.9 L865.5 660.8 L866.1 661.5 L866.7 661.9 L866.7 661.9 L867.3 661.2 L867.9 660.1 L868.5 658.7 L869.1 657.2 L869.7 655.7 L870.3 654.3 L870.9 653.0 L871.5 652.1 L871.8 651.8 L872.1 652.1 L872.7 653.0 L873.3 654.3 L873.9 655.8 L874.5 657.4 L875.1 659.1 L875.7 660.8 L876.3 662.4 L876.9 663.8 L877.5 664.9 L878.1 665.7 L878.2 665.8 L878.7 665.3 L879.3 664.5 L879.9 663.5 L880.5 662.3 L881.1 661.0 L881.7 659.8 L882.3 658.7 L882.7 658.1 L882.9 657.9 L883.5 657.1 L884.1 656.4 L884.7 655.7 L885.3 655.0 L885.9 654.3 L886.5 653.8 L887.1 653.3 L887.7 653.0 L887.7 653.0 L888.3 654.0 L888.9 655.6 L889.5 657.5 L890.1 659.6 L890.7 661.7 L891.3 663.6 L891.9 665.2 L892.2 665.8 L892.5 666.1 L893.1 666.6 L893.7 667.1 L894.3 667.5 L894.9 667.8 L895.5 668.1 L896.0 668.3 L896.1 668.2 L896.7 667.4 L897.3 666.1 L897.9 664.8 L898.5 663.5 L899.1 662.7 L899.2 662.6 L899.7 662.9 L900.3 663.4 L900.9 664.1 L901.5 664.8 L902.1 665.6 L902.7 666.4 L903.3 667.2 L903.9 667.9 L904.5 668.6 L904.9 668.9 L905.1 669.0 L905.7 669.2 L906.3 669.5 L906.9 669.7 L907.5 669.9 L908.1 670.1 L908.7 670.3 L909.3 670.5 L909.9 670.6 L910.5 670.8 L911.1 670.9 L911.3 670.9 L911.7 670.7 L912.3 670.1 L912.9 669.4 L913.5 668.6 L914.1 667.8 L914.7 666.9 L915.3 666.1 L915.9 665.4 L916.5 664.8 L917.0 664.5 L917.1 664.5 L917.7 664.9 L918.3 665.4 L918.9 666.0 L919.5 666.7 L920.1 667.3 L920.7 667.8 L921.3 668.2 L921.5 668.3 L921.9 667.7 L922.5 666.3 L923.1 664.5 L923.7 662.6 L924.3 660.6 L924.7 659.4 L924.9 658.8 L925.5 656.9 L926.1 654.8 L926.7 652.8 L927.3 651.2 L927.9 650.2 L927.9 650.2 L928.5 651.8 L929.1 654.4 L929.7 657.5 L930.3 660.6 L930.9 663.4 L931.5 665.4 L931.7 665.8 L932.1 665.7 L932.7 665.5 L933.3 665.2 L933.9 664.8 L934.5 664.6 L934.9 664.5 L935.1 664.6 L935.7 665.1 L936.3 665.7 L936.9 666.5 L937.5 667.3 L938.1 668.2 L938.7 669.1 L939.3 669.8 L939.9 670.4 L940.5 670.9 L940.6 670.9 L941.1 670.8 L941.7 670.6 L942.3 670.3 L942.9 670.0 L943.5 669.7 L944.1 669.3 L944.7 669.0 L945.3 668.6 L945.7 668.3 L945.9 668.1 L946.5 667.4 L947.1 666.5 L947.7 665.6 L948.3 664.7 L948.9 663.7 L949.5 662.8 L950.1 661.9 L950.1 661.9 L950.7 661.0 L951.3 660.1 L951.9 659.2 L952.5 658.6 L952.8 658.4 L953.1 658.9 L953.7 660.5 L954.3 662.6 L954.9 665.0 L955.5 667.2 L956.1 668.9 L956.5 669.6 L956.7 669.6 L957.3 669.4 L957.9 669.3 L958.5 669.0 L959.1 668.8 L959.7 668.6 L960.3 668.4 L960.9 668.3 L961.0 668.3 L961.5 668.4 L962.1 668.5 L962.7 668.7 L963.3 668.8 L963.9 669.0 L964.5 669.2 L965.1 669.4 L965.7 669.5 L966.3 669.6 L966.3 669.6 L966.9 669.5 L967.5 669.4 L968.1 669.3 L968.7 669.2 L969.3 669.0 L969.9 668.8 L970.5 668.6 L971.1 668.4 L971.4 668.3 L971.7 667.9 L972.3 666.9 L972.9 665.6 L973.5 664.2 L974.1 663.2 L974.6 662.6 L974.7 662.7 L975.3 663.7 L975.9 665.3 L976.5 666.9 L977.1 668.5 L977.7 669.5 L977.8 669.6 L978.3 669.4 L978.9 669.1 L979.5 668.7 L980.1 668.3 L980.7 667.8 L981.3 667.3 L981.6 667.0 L981.9 666.5 L982.5 665.4 L983.1 664.1 L983.7 663.0 L984.1 662.6 L984.3 662.8 L984.9 663.9 L985.5 665.5 L986.1 667.1 L986.7 668.6 L987.3 669.6 L987.3 669.6 L987.9 669.7 L988.5 669.8 L989.1 669.9 L989.7 670.0 L990.3 670.1 L990.9 670.1 L991.5 670.2 L991.8 670.2 L992.1 670.0 L992.7 669.6 L993.3 669.0 L993.9 668.3 L994.5 667.5 L995.1 666.6 L995.6 665.8 L995.7 665.5 L996.3 663.2 L996.9 660.5 L997.5 657.4 L998.1 654.3 L998.1 654.3 L998.7 650.1 L999.3 645.3 L999.9 641.2 L1000.4 639.0 L1000.5 639.4 L1001.1 643.8 L1001.7 650.1 L1002.3 656.6 L1002.6 659.4 L1002.9 661.6 L1003.5 665.7 L1003.9 668.3" fill="none" stroke="#ff7f0e" stroke-width="4.0" stroke-linejoin="round" stroke-linecap="butt" clip-path="url(#cb)"/>
<rect x="81.1" y="2.8" width="922.5" height="312.8" fill="none" stroke="#000" stroke-width="2.0"/>
<line x1="142.4" y1="315.6" x2="142.4" y2="324.6" stroke="#000" stroke-width="2.0"/>
<text transform="translate(142.4 350.2) scale(1 1.04)" text-anchor="middle">737</text>
<line x1="265.4" y1="315.6" x2="265.4" y2="324.6" stroke="#000" stroke-width="2.0"/>
<text transform="translate(265.4 350.2) scale(1 1.04)" text-anchor="middle">738</text>
<line x1="388.4" y1="315.6" x2="388.4" y2="324.6" stroke="#000" stroke-width="2.0"/>
<text transform="translate(388.4 350.2) scale(1 1.04)" text-anchor="middle">739</text>
<line x1="511.4" y1="315.6" x2="511.4" y2="324.6" stroke="#000" stroke-width="2.0"/>
<text transform="translate(511.4 350.2) scale(1 1.04)" text-anchor="middle">740</text>
<line x1="634.4" y1="315.6" x2="634.4" y2="324.6" stroke="#000" stroke-width="2.0"/>
<text transform="translate(634.4 350.2) scale(1 1.04)" text-anchor="middle">741</text>
<line x1="757.4" y1="315.6" x2="757.4" y2="324.6" stroke="#000" stroke-width="2.0"/>
<text transform="translate(757.4 350.2) scale(1 1.04)" text-anchor="middle">742</text>
<line x1="880.4" y1="315.6" x2="880.4" y2="324.6" stroke="#000" stroke-width="2.0"/>
<text transform="translate(880.4 350.2) scale(1 1.04)" text-anchor="middle">743</text>
<line x1="1003.4" y1="315.6" x2="1003.4" y2="324.6" stroke="#000" stroke-width="2.0"/>
<text transform="translate(1003.4 350.2) scale(1 1.04)" text-anchor="middle">744</text>
<line x1="72.1" y1="246.4" x2="81.1" y2="246.4" stroke="#000" stroke-width="2.0"/>
<text transform="translate(64.2 255.2) scale(1 1.04)" text-anchor="end">2</text>
<line x1="72.1" y1="176.9" x2="81.1" y2="176.9" stroke="#000" stroke-width="2.0"/>
<text transform="translate(64.2 185.7) scale(1 1.04)" text-anchor="end">4</text>
<line x1="72.1" y1="107.2" x2="81.1" y2="107.2" stroke="#000" stroke-width="2.0"/>
<text transform="translate(64.2 116.0) scale(1 1.04)" text-anchor="end">6</text>
<line x1="72.1" y1="37.7" x2="81.1" y2="37.7" stroke="#000" stroke-width="2.0"/>
<text transform="translate(64.2 46.5) scale(1 1.04)" text-anchor="end">8</text>
<rect x="81.1" y="361.0" width="922.5" height="312.79999999999995" fill="none" stroke="#000" stroke-width="2.0"/>
<line x1="142.4" y1="673.8" x2="142.4" y2="682.8" stroke="#000" stroke-width="2.0"/>
<text transform="translate(142.4 708.4) scale(1 1.04)" text-anchor="middle">737</text>
<line x1="265.4" y1="673.8" x2="265.4" y2="682.8" stroke="#000" stroke-width="2.0"/>
<text transform="translate(265.4 708.4) scale(1 1.04)" text-anchor="middle">738</text>
<line x1="388.4" y1="673.8" x2="388.4" y2="682.8" stroke="#000" stroke-width="2.0"/>
<text transform="translate(388.4 708.4) scale(1 1.04)" text-anchor="middle">739</text>
<line x1="511.4" y1="673.8" x2="511.4" y2="682.8" stroke="#000" stroke-width="2.0"/>
<text transform="translate(511.4 708.4) scale(1 1.04)" text-anchor="middle">740</text>
<line x1="634.4" y1="673.8" x2="634.4" y2="682.8" stroke="#000" stroke-width="2.0"/>
<text transform="translate(634.4 708.4) scale(1 1.04)" text-anchor="middle">741</text>
<line x1="757.4" y1="673.8" x2="757.4" y2="682.8" stroke="#000" stroke-width="2.0"/>
<text transform="translate(757.4 708.4) scale(1 1.04)" text-anchor="middle">742</text>
<line x1="880.4" y1="673.8" x2="880.4" y2="682.8" stroke="#000" stroke-width="2.0"/>
<text transform="translate(880.4 708.4) scale(1 1.04)" text-anchor="middle">743</text>
<line x1="1003.4" y1="673.8" x2="1003.4" y2="682.8" stroke="#000" stroke-width="2.0"/>
<text transform="translate(1003.4 708.4) scale(1 1.04)" text-anchor="middle">744</text>
<line x1="72.1" y1="673.8" x2="81.1" y2="673.8" stroke="#000" stroke-width="2.0"/>
<text transform="translate(64.1 683.0) scale(1 1.04)" text-anchor="end">0</text>
<line x1="72.1" y1="584.2" x2="81.1" y2="584.2" stroke="#000" stroke-width="2.0"/>
<text transform="translate(64.1 593.5) scale(1 1.04)" text-anchor="end">1</text>
<line x1="72.1" y1="494.7" x2="81.1" y2="494.7" stroke="#000" stroke-width="2.0"/>
<text transform="translate(64.1 503.9) scale(1 1.04)" text-anchor="end">2</text>
<line x1="72.1" y1="405.2" x2="81.1" y2="405.2" stroke="#000" stroke-width="2.0"/>
<text transform="translate(64.1 414.4) scale(1 1.04)" text-anchor="end">3</text>
<text x="-2.2" y="18.1">(a)</text>
<text x="-2.2" y="379.6">(b)</text>
<text transform="translate(35.1 159.2) rotate(-90)" text-anchor="middle">Signal (arb. units)</text>
<text transform="translate(35.1 517.4) rotate(-90)" text-anchor="middle">Signal (arb. units)</text>
<text x="542.4" y="740.5" text-anchor="middle">Wavelength (nm)</text>
<rect x="724.0" y="2.8" width="279.6" height="199.39999999999998" fill="#fff" stroke="#000" stroke-width="2.0"/>
<circle cx="736.6" cy="193.6" r="8.45" fill="#440154"/>
<circle cx="745.1" cy="170.2" r="8.45" fill="#450d5f"/>
<circle cx="753.6" cy="193.6" r="8.45" fill="#46186a"/>
<circle cx="762.0" cy="170.2" r="8.45" fill="#482474"/>
<circle cx="770.5" cy="146.8" r="8.45" fill="#462f7b"/>
<circle cx="779.0" cy="164.3" r="8.45" fill="#433980"/>
<circle cx="787.5" cy="117.5" r="8.45" fill="#404386"/>
<circle cx="796.0" cy="58.9" r="8.45" fill="#3d4d8a"/>
<circle cx="804.4" cy="76.5" r="8.45" fill="#39568b"/>
<circle cx="812.9" cy="12.1" r="8.45" fill="#355f8c"/>
<circle cx="821.4" cy="88.2" r="8.45" fill="#31688e"/>
<circle cx="829.9" cy="58.9" r="8.45" fill="#2e708e"/>
<circle cx="838.4" cy="41.4" r="8.45" fill="#2a788e"/>
<circle cx="846.8" cy="47.2" r="8.45" fill="#277f8e"/>
<circle cx="855.3" cy="47.2" r="8.45" fill="#25888d"/>
<circle cx="863.8" cy="82.4" r="8.45" fill="#22908c"/>
<circle cx="872.3" cy="82.4" r="8.45" fill="#20988a"/>
<circle cx="880.8" cy="105.8" r="8.45" fill="#21a087"/>
<circle cx="889.2" cy="82.4" r="8.45" fill="#28a883"/>
<circle cx="897.7" cy="135.0" r="8.45" fill="#2eaf7e"/>
<circle cx="906.2" cy="140.9" r="8.45" fill="#35b779"/>
<circle cx="914.7" cy="123.3" r="8.45" fill="#46be6f"/>
<circle cx="923.2" cy="158.5" r="8.45" fill="#57c466"/>
<circle cx="931.6" cy="181.9" r="8.45" fill="#67cb5c"/>
<circle cx="940.1" cy="164.3" r="8.45" fill="#7bd050"/>
<circle cx="948.6" cy="176.0" r="8.45" fill="#90d642"/>
<circle cx="957.1" cy="176.0" r="8.45" fill="#a6db35"/>
<circle cx="965.6" cy="193.6" r="8.45" fill="#bbdf2b"/>
<circle cx="974.0" cy="176.0" r="8.45" fill="#d1e229"/>
<circle cx="982.5" cy="187.7" r="8.45" fill="#e7e427"/>
<circle cx="991.0" cy="193.6" r="8.45" fill="#fde725"/>
<path d="M736.6 179.0 L737.4 178.5 L738.3 177.9 L739.1 177.4 L740.0 176.8 L740.8 176.2 L741.7 175.6 L742.5 175.0 L743.4 174.3 L744.2 173.7 L745.1 173.0 L745.9 172.3 L746.8 171.6 L747.6 170.8 L748.5 170.1 L749.3 169.3 L750.2 168.5 L751.0 167.6 L751.9 166.8 L752.7 165.9 L753.6 165.0 L754.4 164.1 L755.3 163.2 L756.1 162.3 L757.0 161.3 L757.8 160.3 L758.6 159.3 L759.5 158.2 L760.3 157.2 L761.2 156.1 L762.0 155.0 L762.9 153.9 L763.7 152.7 L764.6 151.5 L765.4 150.4 L766.3 149.1 L767.1 147.9 L768.0 146.7 L768.8 145.4 L769.7 144.1 L770.5 142.8 L771.4 141.5 L772.2 140.1 L773.1 138.7 L773.9 137.4 L774.8 135.9 L775.6 134.5 L776.5 133.1 L777.3 131.6 L778.2 130.2 L779.0 128.7 L779.8 127.2 L780.7 125.6 L781.5 124.1 L782.4 122.6 L783.2 121.0 L784.1 119.4 L784.9 117.9 L785.8 116.3 L786.6 114.7 L787.5 113.1 L788.3 111.5 L789.2 109.9 L790.0 108.2 L790.9 106.6 L791.7 105.0 L792.6 103.4 L793.4 101.7 L794.3 100.1 L795.1 98.5 L796.0 96.8 L796.8 95.2 L797.7 93.6 L798.5 92.0 L799.4 90.4 L800.2 88.8 L801.0 87.2 L801.9 85.6 L802.7 84.0 L803.6 82.5 L804.4 80.9 L805.3 79.4 L806.1 77.9 L807.0 76.4 L807.8 74.9 L808.7 73.5 L809.5 72.0 L810.4 70.6 L811.2 69.2 L812.1 67.9 L812.9 66.5 L813.8 65.2 L814.6 63.9 L815.5 62.7 L816.3 61.5 L817.2 60.3 L818.0 59.1 L818.9 58.0 L819.7 56.9 L820.6 55.8 L821.4 54.8 L822.2 53.8 L823.1 52.9 L823.9 52.0 L824.8 51.1 L825.6 50.3 L826.5 49.5 L827.3 48.8 L828.2 48.1 L829.0 47.5 L829.9 46.9 L830.7 46.3 L831.6 45.8 L832.4 45.3 L833.3 44.9 L834.1 44.5 L835.0 44.2 L835.8 43.9 L836.7 43.7 L837.5 43.5 L838.4 43.4 L839.2 43.3 L840.1 43.2 L840.9 43.3 L841.8 43.3 L842.6 43.4 L843.4 43.6 L844.3 43.8 L845.1 44.0 L846.0 44.3 L846.8 44.7 L847.7 45.1 L848.5 45.5 L849.4 46.0 L850.2 46.6 L851.1 47.1 L851.9 47.8 L852.8 48.4 L853.6 49.2 L854.5 49.9 L855.3 50.7 L856.2 51.6 L857.0 52.4 L857.9 53.4 L858.7 54.3 L859.6 55.3 L860.4 56.3 L861.3 57.4 L862.1 58.5 L863.0 59.7 L863.8 60.8 L864.6 62.0 L865.5 63.3 L866.3 64.6 L867.2 65.8 L868.0 67.2 L868.9 68.5 L869.7 69.9 L870.6 71.3 L871.4 72.7 L872.3 74.2 L873.1 75.6 L874.0 77.1 L874.8 78.6 L875.7 80.1 L876.5 81.7 L877.4 83.2 L878.2 84.8 L879.1 86.4 L879.9 87.9 L880.8 89.5 L881.6 91.1 L882.5 92.8 L883.3 94.4 L884.2 96.0 L885.0 97.6 L885.8 99.3 L886.7 100.9 L887.5 102.5 L888.4 104.1 L889.2 105.8 L890.1 107.4 L890.9 109.0 L891.8 110.6 L892.6 112.3 L893.5 113.9 L894.3 115.5 L895.2 117.0 L896.0 118.6 L896.9 120.2 L897.7 121.8 L898.6 123.3 L899.4 124.8 L900.3 126.4 L901.1 127.9 L902.0 129.4 L902.8 130.9 L903.7 132.3 L904.5 133.8 L905.4 135.2 L906.2 136.6 L907.0 138.0 L907.9 139.4 L908.7 140.8 L909.6 142.1 L910.4 143.4 L911.3 144.7 L912.1 146.0 L913.0 147.3 L913.8 148.5 L914.7 149.7 L915.5 150.9 L916.4 152.1 L917.2 153.3 L918.1 154.4 L918.9 155.5 L919.8 156.6 L920.6 157.7 L921.5 158.7 L922.3 159.8 L923.2 160.8 L924.0 161.8 L924.9 162.7 L925.7 163.7 L926.6 164.6 L927.4 165.5 L928.2 166.3 L929.1 167.2 L929.9 168.0 L930.8 168.9 L931.6 169.6 L932.5 170.4 L933.3 171.2 L934.2 171.9 L935.0 172.6 L935.9 173.3 L936.7 174.0 L937.6 174.6 L938.4 175.3 L939.3 175.9 L940.1 176.5 L941.0 177.1 L941.8 177.6 L942.7 178.2 L943.5 178.7 L944.4 179.2 L945.2 179.7 L946.1 180.2 L946.9 180.7 L947.8 181.1 L948.6 181.6 L949.4 182.0 L950.3 182.4 L951.1 182.8 L952.0 183.2 L952.8 183.6 L953.7 183.9 L954.5 184.2 L955.4 184.6 L956.2 184.9 L957.1 185.2 L957.9 185.5 L958.8 185.8 L959.6 186.0 L960.5 186.3 L961.3 186.6 L962.2 186.8 L963.0 187.0 L963.9 187.3 L964.7 187.5 L965.6 187.7 L966.4 187.9 L967.3 188.1 L968.1 188.2 L969.0 188.4 L969.8 188.6 L970.6 188.7 L971.5 188.9 L972.3 189.0 L973.2 189.2 L974.0 189.3 L974.9 189.4 L975.7 189.6 L976.6 189.7 L977.4 189.8 L978.3 189.9 L979.1 190.0 L980.0 190.1 L980.8 190.2 L981.7 190.3 L982.5 190.4 L983.4 190.4 L984.2 190.5 L985.1 190.6 L985.9 190.7 L986.8 190.7 L987.6 190.8 L988.5 190.8 L989.3 190.9 L990.2 191.0 L991.0 191.0" fill="none" stroke="#2ca02c" stroke-width="4.0" stroke-linejoin="round" stroke-linecap="square"/>
<line x1="821.2" y1="202.2" x2="821.2" y2="211.2" stroke="#000" stroke-width="2.0"/>
<text transform="translate(821.2 237.0) scale(1 1.04)" text-anchor="middle">2000</text>
<line x1="991.0" y1="202.2" x2="991.0" y2="211.2" stroke="#000" stroke-width="2.0"/>
<text transform="translate(991.0 237.0) scale(1 1.04)" text-anchor="middle">3000</text>
<line x1="715.0" y1="193.6" x2="724.0" y2="193.6" stroke="#000" stroke-width="2.0"/>
<text transform="translate(706.8 202.8) scale(1 1.04)" text-anchor="end">0.00</text>
<line x1="715.0" y1="135.0" x2="724.0" y2="135.0" stroke="#000" stroke-width="2.0"/>
<text transform="translate(706.8 144.2) scale(1 1.04)" text-anchor="end">0.05</text>
<line x1="715.0" y1="76.5" x2="724.0" y2="76.5" stroke="#000" stroke-width="2.0"/>
<text transform="translate(706.8 85.7) scale(1 1.04)" text-anchor="end">0.10</text>
<line x1="715.0" y1="17.9" x2="724.0" y2="17.9" stroke="#000" stroke-width="2.0"/>
<text transform="translate(706.8 27.1) scale(1 1.04)" text-anchor="end">0.15</text>
<text x="863.8" y="269.5" text-anchor="middle"># SiV</text>
<text transform="translate(639.8 102.5) rotate(-90)" text-anchor="middle">Prob. dist.</text>
<rect x="724.0" y="361.0" width="279.6" height="199.60000000000002" fill="#fff" stroke="#000" stroke-width="2.0"/>
<circle cx="736.3" cy="551.5" r="8.45" fill="#440154"/>
<circle cx="744.8" cy="551.5" r="8.45" fill="#450d5f"/>
<circle cx="753.3" cy="551.5" r="8.45" fill="#46186a"/>
<circle cx="761.8" cy="551.5" r="8.45" fill="#482474"/>
<circle cx="770.3" cy="551.5" r="8.45" fill="#462f7b"/>
<circle cx="778.8" cy="551.5" r="8.45" fill="#433980"/>
<circle cx="787.3" cy="551.5" r="8.45" fill="#404386"/>
<circle cx="795.8" cy="540.5" r="8.45" fill="#3d4d8a"/>
<circle cx="804.3" cy="529.5" r="8.45" fill="#39568b"/>
<circle cx="812.8" cy="474.5" r="8.45" fill="#355f8c"/>
<circle cx="821.2" cy="502.0" r="8.45" fill="#31688e"/>
<circle cx="829.7" cy="496.5" r="8.45" fill="#2e708e"/>
<circle cx="838.2" cy="425.0" r="8.45" fill="#2a788e"/>
<circle cx="846.7" cy="403.0" r="8.45" fill="#277f8e"/>
<circle cx="855.2" cy="408.5" r="8.45" fill="#25888d"/>
<circle cx="863.7" cy="370.0" r="8.45" fill="#22908c"/>
<circle cx="872.2" cy="430.5" r="8.45" fill="#20988a"/>
<circle cx="880.7" cy="447.0" r="8.45" fill="#21a087"/>
<circle cx="889.2" cy="452.5" r="8.45" fill="#28a883"/>
<circle cx="897.7" cy="480.0" r="8.45" fill="#2eaf7e"/>
<circle cx="906.2" cy="452.5" r="8.45" fill="#35b779"/>
<circle cx="914.7" cy="540.5" r="8.45" fill="#46be6f"/>
<circle cx="923.2" cy="524.0" r="8.45" fill="#57c466"/>
<circle cx="931.7" cy="535.0" r="8.45" fill="#67cb5c"/>
<circle cx="940.2" cy="529.5" r="8.45" fill="#7bd050"/>
<circle cx="948.7" cy="546.0" r="8.45" fill="#90d642"/>
<circle cx="957.2" cy="546.0" r="8.45" fill="#a6db35"/>
<circle cx="965.7" cy="551.5" r="8.45" fill="#bbdf2b"/>
<circle cx="974.2" cy="551.5" r="8.45" fill="#d1e229"/>
<circle cx="982.7" cy="551.5" r="8.45" fill="#e7e427"/>
<circle cx="991.1" cy="551.5" r="8.45" fill="#fde725"/>
<path d="M736.3 551.4 L737.1 551.4 L738.0 551.4 L738.8 551.4 L739.7 551.4 L740.5 551.4 L741.4 551.4 L742.2 551.4 L743.1 551.4 L743.9 551.3 L744.8 551.3 L745.6 551.3 L746.5 551.3 L747.3 551.3 L748.2 551.2 L749.0 551.2 L749.9 551.2 L750.7 551.2 L751.6 551.1 L752.4 551.1 L753.3 551.0 L754.1 551.0 L755.0 550.9 L755.8 550.9 L756.7 550.8 L757.5 550.8 L758.4 550.7 L759.2 550.6 L760.1 550.6 L760.9 550.5 L761.8 550.4 L762.6 550.3 L763.5 550.2 L764.3 550.1 L765.2 550.0 L766.0 549.8 L766.9 549.7 L767.7 549.5 L768.6 549.4 L769.4 549.2 L770.3 549.0 L771.1 548.8 L772.0 548.6 L772.8 548.4 L773.7 548.1 L774.5 547.9 L775.4 547.6 L776.2 547.3 L777.1 547.0 L777.9 546.7 L778.8 546.3 L779.6 546.0 L780.5 545.6 L781.3 545.1 L782.2 544.7 L783.0 544.2 L783.9 543.7 L784.7 543.2 L785.6 542.7 L786.4 542.1 L787.3 541.5 L788.1 540.8 L789.0 540.1 L789.8 539.4 L790.7 538.7 L791.5 537.9 L792.4 537.1 L793.2 536.2 L794.1 535.3 L794.9 534.4 L795.8 533.4 L796.6 532.4 L797.5 531.3 L798.3 530.2 L799.2 529.1 L800.0 527.9 L800.9 526.6 L801.7 525.3 L802.6 524.0 L803.4 522.6 L804.3 521.2 L805.1 519.7 L806.0 518.1 L806.8 516.6 L807.7 514.9 L808.5 513.2 L809.4 511.5 L810.2 509.7 L811.1 507.9 L811.9 506.1 L812.8 504.1 L813.6 502.2 L814.5 500.2 L815.3 498.1 L816.2 496.0 L817.0 493.9 L817.9 491.7 L818.7 489.5 L819.6 487.3 L820.4 485.0 L821.2 482.7 L822.1 480.4 L822.9 478.1 L823.8 475.7 L824.6 473.3 L825.5 470.9 L826.3 468.4 L827.2 466.0 L828.0 463.5 L828.9 461.1 L829.7 458.6 L830.6 456.2 L831.4 453.7 L832.3 451.3 L833.1 448.9 L834.0 446.4 L834.8 444.1 L835.7 441.7 L836.5 439.4 L837.4 437.1 L838.2 434.8 L839.1 432.6 L839.9 430.4 L840.8 428.3 L841.6 426.2 L842.5 424.2 L843.3 422.2 L844.2 420.3 L845.0 418.5 L845.9 416.8 L846.7 415.1 L847.6 413.5 L848.4 412.0 L849.3 410.5 L850.1 409.2 L851.0 408.0 L851.8 406.8 L852.7 405.7 L853.5 404.8 L854.4 403.9 L855.2 403.2 L856.1 402.5 L856.9 401.9 L857.8 401.5 L858.6 401.2 L859.5 400.9 L860.3 400.8 L861.2 400.8 L862.0 400.9 L862.9 401.1 L863.7 401.4 L864.6 401.9 L865.4 402.4 L866.3 403.0 L867.1 403.8 L868.0 404.6 L868.8 405.5 L869.7 406.6 L870.5 407.7 L871.4 408.9 L872.2 410.3 L873.1 411.7 L873.9 413.2 L874.8 414.8 L875.6 416.4 L876.5 418.2 L877.3 420.0 L878.2 421.8 L879.0 423.8 L879.9 425.8 L880.7 427.9 L881.6 430.0 L882.4 432.1 L883.3 434.3 L884.1 436.6 L885.0 438.9 L885.8 441.2 L886.7 443.6 L887.5 446.0 L888.4 448.4 L889.2 450.8 L890.1 453.2 L890.9 455.7 L891.8 458.1 L892.6 460.6 L893.5 463.0 L894.3 465.5 L895.2 467.9 L896.0 470.4 L896.9 472.8 L897.7 475.2 L898.6 477.6 L899.4 479.9 L900.3 482.3 L901.1 484.6 L902.0 486.9 L902.8 489.1 L903.7 491.3 L904.5 493.5 L905.4 495.6 L906.2 497.7 L907.0 499.8 L907.9 501.8 L908.7 503.8 L909.6 505.7 L910.4 507.6 L911.3 509.4 L912.1 511.2 L913.0 512.9 L913.8 514.6 L914.7 516.2 L915.5 517.8 L916.4 519.4 L917.2 520.9 L918.1 522.3 L918.9 523.7 L919.8 525.1 L920.6 526.4 L921.5 527.6 L922.3 528.8 L923.2 530.0 L924.0 531.1 L924.9 532.2 L925.7 533.2 L926.6 534.2 L927.4 535.1 L928.3 536.1 L929.1 536.9 L930.0 537.7 L930.8 538.5 L931.7 539.3 L932.5 540.0 L933.4 540.7 L934.2 541.3 L935.1 542.0 L935.9 542.5 L936.8 543.1 L937.6 543.6 L938.5 544.1 L939.3 544.6 L940.2 545.1 L941.0 545.5 L941.9 545.9 L942.7 546.3 L943.6 546.6 L944.4 546.9 L945.3 547.3 L946.1 547.6 L947.0 547.8 L947.8 548.1 L948.7 548.3 L949.5 548.6 L950.4 548.8 L951.2 549.0 L952.1 549.2 L952.9 549.3 L953.8 549.5 L954.6 549.7 L955.5 549.8 L956.3 549.9 L957.2 550.1 L958.0 550.2 L958.9 550.3 L959.7 550.4 L960.6 550.5 L961.4 550.5 L962.3 550.6 L963.1 550.7 L964.0 550.8 L964.8 550.8 L965.7 550.9 L966.5 550.9 L967.4 551.0 L968.2 551.0 L969.1 551.1 L969.9 551.1 L970.8 551.1 L971.6 551.2 L972.5 551.2 L973.3 551.2 L974.2 551.3 L975.0 551.3 L975.9 551.3 L976.7 551.3 L977.6 551.3 L978.4 551.4 L979.3 551.4 L980.1 551.4 L981.0 551.4 L981.8 551.4 L982.7 551.4 L983.5 551.4 L984.4 551.4 L985.2 551.4 L986.1 551.4 L986.9 551.4 L987.8 551.5 L988.6 551.5 L989.5 551.5 L990.3 551.5 L991.1 551.5" fill="none" stroke="#2ca02c" stroke-width="4.0" stroke-linejoin="round" stroke-linecap="square"/>
<line x1="736.3" y1="560.6" x2="736.3" y2="569.6" stroke="#000" stroke-width="2.0"/>
<text transform="translate(736.3 595.2) scale(1 1.04)" text-anchor="middle">1000</text>
<line x1="906.2" y1="560.6" x2="906.2" y2="569.6" stroke="#000" stroke-width="2.0"/>
<text transform="translate(906.2 595.2) scale(1 1.04)" text-anchor="middle">2000</text>
<line x1="715.0" y1="551.5" x2="724.0" y2="551.5" stroke="#000" stroke-width="2.0"/>
<text transform="translate(706.8 560.7) scale(1 1.04)" text-anchor="end">0.00</text>
<line x1="715.0" y1="496.5" x2="724.0" y2="496.5" stroke="#000" stroke-width="2.0"/>
<text transform="translate(706.8 505.7) scale(1 1.04)" text-anchor="end">0.05</text>
<line x1="715.0" y1="441.5" x2="724.0" y2="441.5" stroke="#000" stroke-width="2.0"/>
<text transform="translate(706.8 450.7) scale(1 1.04)" text-anchor="end">0.10</text>
<line x1="715.0" y1="386.5" x2="724.0" y2="386.5" stroke="#000" stroke-width="2.0"/>
<text transform="translate(706.8 395.7) scale(1 1.04)" text-anchor="end">0.15</text>
<text x="863.8" y="627.6" text-anchor="middle"># SiV</text>
<text transform="translate(639.8 460.8) rotate(-90)" text-anchor="middle">Prob. dist.</text>
</svg>
</body></html>
